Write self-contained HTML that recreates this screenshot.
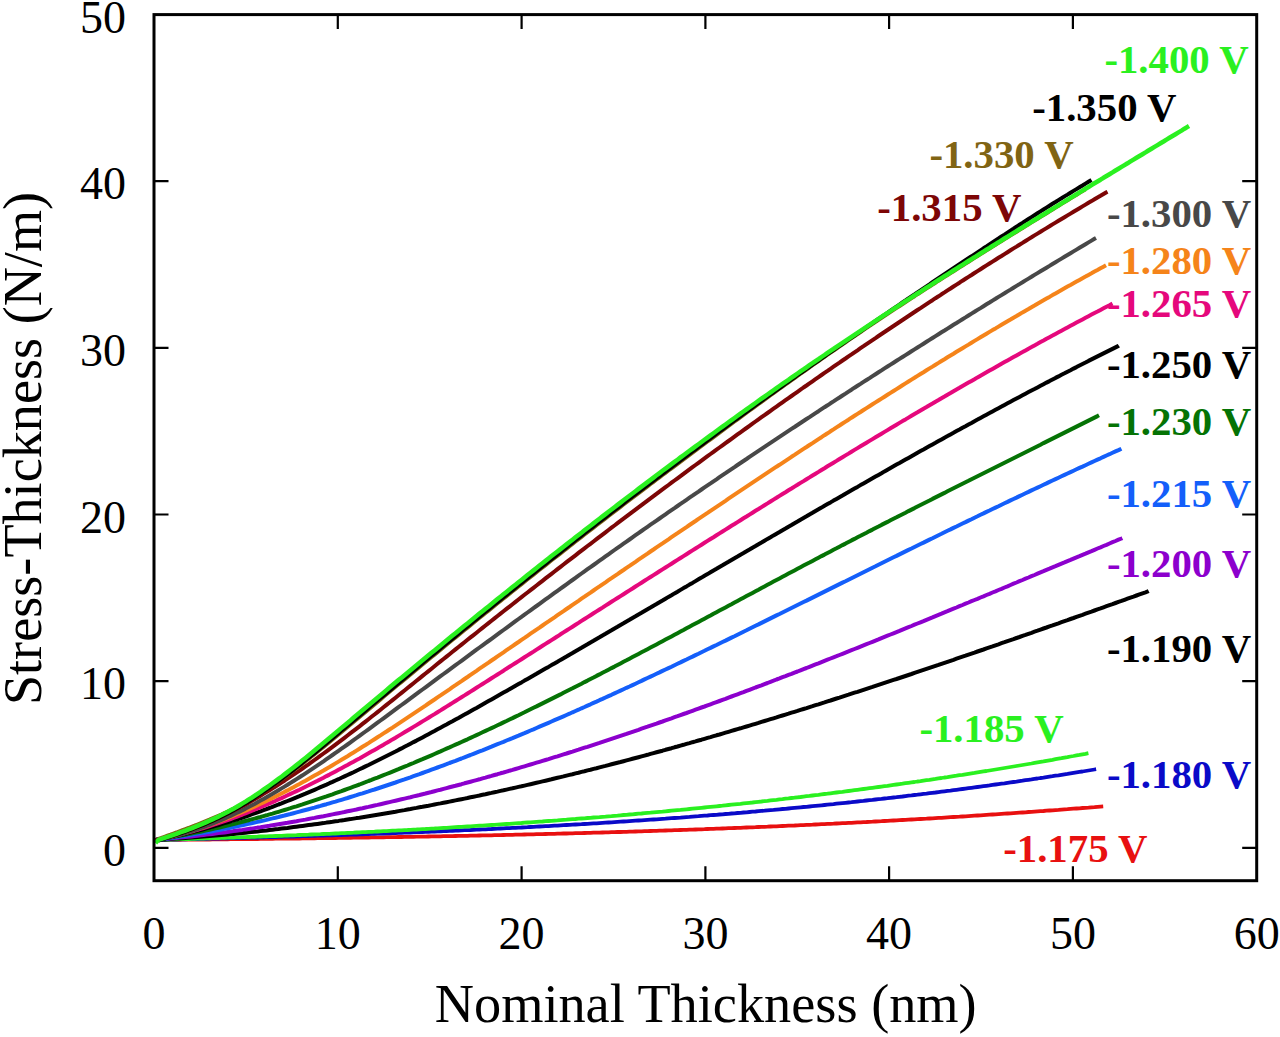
<!DOCTYPE html>
<html><head><meta charset="utf-8"><style>
html,body{margin:0;padding:0;background:#fff;}
svg{display:block;}
text{font-family:"Liberation Serif",serif;}
</style></head><body>
<svg width="1280" height="1037" viewBox="0 0 1280 1037">
<rect x="0" y="0" width="1280" height="1037" fill="#fff"/>
<g>
<path d="M155.5,840.0 L158.5,839.9 L161.5,839.9 L164.5,839.9 L167.5,839.9 L170.5,839.8 L173.5,839.8 L176.5,839.8 L179.5,839.8 L182.5,839.7 L185.5,839.7 L188.5,839.7 L191.5,839.6 L194.5,839.6 L197.5,839.6 L200.5,839.6 L203.5,839.5 L206.5,839.5 L209.5,839.5 L212.5,839.4 L215.5,839.4 L218.5,839.4 L221.5,839.3 L224.5,839.3 L227.5,839.3 L230.5,839.2 L233.5,839.2 L236.5,839.2 L239.5,839.2 L242.5,839.1 L245.5,839.1 L248.5,839.1 L251.5,839.0 L254.5,839.0 L257.5,839.0 L260.5,838.9 L263.5,838.9 L266.5,838.9 L269.5,838.8 L272.5,838.8 L275.5,838.7 L278.5,838.7 L281.5,838.7 L284.5,838.6 L287.5,838.6 L290.5,838.6 L293.5,838.5 L296.5,838.5 L299.5,838.5 L302.5,838.4 L305.5,838.4 L308.5,838.3 L311.5,838.3 L314.5,838.3 L317.5,838.2 L320.5,838.2 L323.5,838.1 L326.5,838.1 L329.5,838.1 L332.5,838.0 L335.5,838.0 L338.5,837.9 L341.5,837.9 L344.5,837.9 L347.5,837.8 L350.5,837.8 L353.5,837.7 L356.5,837.7 L359.5,837.6 L362.5,837.6 L365.5,837.5 L368.5,837.5 L371.5,837.4 L374.5,837.4 L377.5,837.4 L380.5,837.3 L383.5,837.3 L386.5,837.2 L389.5,837.2 L392.5,837.1 L395.5,837.1 L398.5,837.0 L401.5,837.0 L404.5,836.9 L407.5,836.9 L410.5,836.8 L413.5,836.8 L416.5,836.7 L419.5,836.7 L422.5,836.6 L425.5,836.6 L428.5,836.5 L431.5,836.4 L434.5,836.4 L437.5,836.3 L440.5,836.3 L443.5,836.2 L446.5,836.2 L449.5,836.1 L452.5,836.1 L455.5,836.0 L458.5,835.9 L461.5,835.9 L464.5,835.8 L467.5,835.8 L470.5,835.7 L473.5,835.6 L476.5,835.6 L479.5,835.5 L482.5,835.4 L485.5,835.4 L488.5,835.3 L491.5,835.3 L494.5,835.2 L497.5,835.1 L500.5,835.1 L503.5,835.0 L506.5,834.9 L509.5,834.9 L512.5,834.8 L515.5,834.7 L518.5,834.7 L521.5,834.6 L524.5,834.5 L527.5,834.4 L530.5,834.4 L533.5,834.3 L536.5,834.2 L539.5,834.2 L542.5,834.1 L545.5,834.0 L548.5,833.9 L551.5,833.9 L554.5,833.8 L557.5,833.7 L560.5,833.6 L563.5,833.5 L566.5,833.5 L569.5,833.4 L572.5,833.3 L575.5,833.2 L578.5,833.2 L581.5,833.1 L584.5,833.0 L587.5,832.9 L590.5,832.8 L593.5,832.7 L596.5,832.7 L599.5,832.6 L602.5,832.5 L605.5,832.4 L608.5,832.3 L611.5,832.2 L614.5,832.1 L617.5,832.0 L620.5,832.0 L623.5,831.9 L626.5,831.8 L629.5,831.7 L632.5,831.6 L635.5,831.5 L638.5,831.4 L641.5,831.3 L644.5,831.2 L647.5,831.1 L650.5,831.0 L653.5,830.9 L656.5,830.8 L659.5,830.7 L662.5,830.6 L665.5,830.5 L668.5,830.4 L671.5,830.3 L674.5,830.2 L677.5,830.1 L680.5,830.0 L683.5,829.9 L686.5,829.8 L689.5,829.7 L692.5,829.6 L695.5,829.5 L698.5,829.4 L701.5,829.3 L704.5,829.2 L707.5,829.0 L710.5,828.9 L713.5,828.8 L716.5,828.7 L719.5,828.6 L722.5,828.5 L725.5,828.4 L728.5,828.2 L731.5,828.1 L734.5,828.0 L737.5,827.9 L740.5,827.8 L743.5,827.6 L746.5,827.5 L749.5,827.4 L752.5,827.3 L755.5,827.2 L758.5,827.0 L761.5,826.9 L764.5,826.8 L767.5,826.7 L770.5,826.5 L773.5,826.4 L776.5,826.3 L779.5,826.1 L782.5,826.0 L785.5,825.9 L788.5,825.7 L791.5,825.6 L794.5,825.5 L797.5,825.3 L800.5,825.2 L803.5,825.1 L806.5,824.9 L809.5,824.8 L812.5,824.7 L815.5,824.5 L818.5,824.4 L821.5,824.2 L824.5,824.1 L827.5,823.9 L830.5,823.8 L833.5,823.7 L836.5,823.5 L839.5,823.4 L842.5,823.2 L845.5,823.1 L848.5,822.9 L851.5,822.8 L854.5,822.6 L857.5,822.4 L860.5,822.3 L863.5,822.1 L866.5,822.0 L869.5,821.8 L872.5,821.7 L875.5,821.5 L878.5,821.3 L881.5,821.2 L884.5,821.0 L887.5,820.9 L890.5,820.7 L893.5,820.5 L896.5,820.4 L899.5,820.2 L902.5,820.0 L905.5,819.9 L908.5,819.7 L911.5,819.5 L914.5,819.4 L917.5,819.2 L920.5,819.0 L923.5,818.8 L926.5,818.7 L929.5,818.5 L932.5,818.3 L935.5,818.1 L938.5,817.9 L941.5,817.8 L944.5,817.6 L947.5,817.4 L950.5,817.2 L953.5,817.0 L956.5,816.8 L959.5,816.7 L962.5,816.5 L965.5,816.3 L968.5,816.1 L971.5,815.9 L974.5,815.7 L977.5,815.5 L980.5,815.3 L983.5,815.1 L986.5,814.9 L989.5,814.7 L992.5,814.5 L995.5,814.3 L998.5,814.1 L1001.5,813.9 L1004.5,813.7 L1007.5,813.5 L1010.5,813.3 L1013.5,813.1 L1016.5,812.9 L1019.5,812.7 L1022.5,812.5 L1025.5,812.3 L1028.5,812.0 L1031.5,811.8 L1034.5,811.6 L1037.5,811.4 L1040.5,811.2 L1043.5,811.0 L1046.5,810.7 L1049.5,810.5 L1052.5,810.3 L1055.5,810.1 L1058.5,809.9 L1061.5,809.6 L1064.5,809.4 L1067.5,809.2 L1070.5,808.9 L1073.5,808.7 L1076.5,808.5 L1079.5,808.3 L1082.5,808.0 L1085.5,807.8 L1088.5,807.6 L1091.5,807.3 L1094.5,807.1 L1097.5,806.8 L1100.5,806.6 L1103.2,806.4" stroke="#e81010" stroke-width="3.8" fill="none" stroke-linejoin="round" stroke-linecap="butt"/>
<path d="M155.5,840.0 L158.5,839.9 L161.5,839.8 L164.5,839.8 L167.5,839.7 L170.5,839.6 L173.5,839.6 L176.5,839.5 L179.5,839.4 L182.5,839.4 L185.5,839.3 L188.5,839.2 L191.5,839.1 L194.5,839.1 L197.5,839.0 L200.5,838.9 L203.5,838.9 L206.5,838.8 L209.5,838.7 L212.5,838.6 L215.5,838.6 L218.5,838.5 L221.5,838.4 L224.5,838.3 L227.5,838.3 L230.5,838.2 L233.5,838.1 L236.5,838.0 L239.5,838.0 L242.5,837.9 L245.5,837.8 L248.5,837.7 L251.5,837.6 L254.5,837.6 L257.5,837.5 L260.5,837.4 L263.5,837.3 L266.5,837.2 L269.5,837.1 L272.5,837.1 L275.5,837.0 L278.5,836.9 L281.5,836.8 L284.5,836.7 L287.5,836.6 L290.5,836.5 L293.5,836.5 L296.5,836.4 L299.5,836.3 L302.5,836.2 L305.5,836.1 L308.5,836.0 L311.5,835.9 L314.5,835.8 L317.5,835.7 L320.5,835.6 L323.5,835.5 L326.5,835.4 L329.5,835.4 L332.5,835.3 L335.5,835.2 L338.5,835.1 L341.5,835.0 L344.5,834.9 L347.5,834.8 L350.5,834.7 L353.5,834.6 L356.5,834.5 L359.5,834.4 L362.5,834.3 L365.5,834.1 L368.5,834.0 L371.5,833.9 L374.5,833.8 L377.5,833.7 L380.5,833.6 L383.5,833.5 L386.5,833.4 L389.5,833.3 L392.5,833.2 L395.5,833.1 L398.5,832.9 L401.5,832.8 L404.5,832.7 L407.5,832.6 L410.5,832.5 L413.5,832.4 L416.5,832.2 L419.5,832.1 L422.5,832.0 L425.5,831.9 L428.5,831.8 L431.5,831.6 L434.5,831.5 L437.5,831.4 L440.5,831.3 L443.5,831.1 L446.5,831.0 L449.5,830.9 L452.5,830.8 L455.5,830.6 L458.5,830.5 L461.5,830.4 L464.5,830.2 L467.5,830.1 L470.5,830.0 L473.5,829.8 L476.5,829.7 L479.5,829.5 L482.5,829.4 L485.5,829.3 L488.5,829.1 L491.5,829.0 L494.5,828.8 L497.5,828.7 L500.5,828.5 L503.5,828.4 L506.5,828.2 L509.5,828.1 L512.5,827.9 L515.5,827.8 L518.5,827.6 L521.5,827.5 L524.5,827.3 L527.5,827.2 L530.5,827.0 L533.5,826.9 L536.5,826.7 L539.5,826.5 L542.5,826.4 L545.5,826.2 L548.5,826.1 L551.5,825.9 L554.5,825.7 L557.5,825.6 L560.5,825.4 L563.5,825.2 L566.5,825.0 L569.5,824.9 L572.5,824.7 L575.5,824.5 L578.5,824.3 L581.5,824.2 L584.5,824.0 L587.5,823.8 L590.5,823.6 L593.5,823.4 L596.5,823.3 L599.5,823.1 L602.5,822.9 L605.5,822.7 L608.5,822.5 L611.5,822.3 L614.5,822.1 L617.5,821.9 L620.5,821.7 L623.5,821.5 L626.5,821.3 L629.5,821.1 L632.5,820.9 L635.5,820.7 L638.5,820.5 L641.5,820.3 L644.5,820.1 L647.5,819.9 L650.5,819.7 L653.5,819.5 L656.5,819.3 L659.5,819.1 L662.5,818.9 L665.5,818.7 L668.5,818.4 L671.5,818.2 L674.5,818.0 L677.5,817.8 L680.5,817.6 L683.5,817.3 L686.5,817.1 L689.5,816.9 L692.5,816.6 L695.5,816.4 L698.5,816.2 L701.5,815.9 L704.5,815.7 L707.5,815.5 L710.5,815.2 L713.5,815.0 L716.5,814.8 L719.5,814.5 L722.5,814.3 L725.5,814.0 L728.5,813.8 L731.5,813.5 L734.5,813.3 L737.5,813.0 L740.5,812.8 L743.5,812.5 L746.5,812.3 L749.5,812.0 L752.5,811.7 L755.5,811.5 L758.5,811.2 L761.5,810.9 L764.5,810.7 L767.5,810.4 L770.5,810.1 L773.5,809.9 L776.5,809.6 L779.5,809.3 L782.5,809.0 L785.5,808.8 L788.5,808.5 L791.5,808.2 L794.5,807.9 L797.5,807.6 L800.5,807.3 L803.5,807.0 L806.5,806.8 L809.5,806.5 L812.5,806.2 L815.5,805.9 L818.5,805.6 L821.5,805.3 L824.5,805.0 L827.5,804.7 L830.5,804.4 L833.5,804.1 L836.5,803.7 L839.5,803.4 L842.5,803.1 L845.5,802.8 L848.5,802.5 L851.5,802.2 L854.5,801.8 L857.5,801.5 L860.5,801.2 L863.5,800.9 L866.5,800.5 L869.5,800.2 L872.5,799.9 L875.5,799.5 L878.5,799.2 L881.5,798.9 L884.5,798.5 L887.5,798.2 L890.5,797.8 L893.5,797.5 L896.5,797.2 L899.5,796.8 L902.5,796.5 L905.5,796.1 L908.5,795.7 L911.5,795.4 L914.5,795.0 L917.5,794.7 L920.5,794.3 L923.5,793.9 L926.5,793.6 L929.5,793.2 L932.5,792.8 L935.5,792.5 L938.5,792.1 L941.5,791.7 L944.5,791.3 L947.5,790.9 L950.5,790.6 L953.5,790.2 L956.5,789.8 L959.5,789.4 L962.5,789.0 L965.5,788.6 L968.5,788.2 L971.5,787.8 L974.5,787.4 L977.5,787.0 L980.5,786.6 L983.5,786.2 L986.5,785.8 L989.5,785.4 L992.5,784.9 L995.5,784.5 L998.5,784.1 L1001.5,783.7 L1004.5,783.3 L1007.5,782.8 L1010.5,782.4 L1013.5,782.0 L1016.5,781.6 L1019.5,781.1 L1022.5,780.7 L1025.5,780.2 L1028.5,779.8 L1031.5,779.4 L1034.5,778.9 L1037.5,778.5 L1040.5,778.0 L1043.5,777.6 L1046.5,777.1 L1049.5,776.6 L1052.5,776.2 L1055.5,775.7 L1058.5,775.3 L1061.5,774.8 L1064.5,774.3 L1067.5,773.9 L1070.5,773.4 L1073.5,772.9 L1076.5,772.4 L1079.5,771.9 L1082.5,771.5 L1085.5,771.0 L1088.5,770.5 L1091.5,770.0 L1094.5,769.5 L1096.1,769.2" stroke="#0a0ac8" stroke-width="3.8" fill="none" stroke-linejoin="round" stroke-linecap="butt"/>
<path d="M155.5,839.9 L158.5,839.8 L161.5,839.7 L164.5,839.7 L167.5,839.6 L170.5,839.5 L173.5,839.4 L176.5,839.3 L179.5,839.2 L182.5,839.1 L185.5,839.0 L188.5,839.0 L191.5,838.9 L194.5,838.8 L197.5,838.7 L200.5,838.6 L203.5,838.5 L206.5,838.4 L209.5,838.3 L212.5,838.2 L215.5,838.1 L218.5,838.0 L221.5,837.9 L224.5,837.8 L227.5,837.7 L230.5,837.6 L233.5,837.5 L236.5,837.4 L239.5,837.3 L242.5,837.2 L245.5,837.1 L248.5,837.0 L251.5,836.9 L254.5,836.8 L257.5,836.7 L260.5,836.5 L263.5,836.4 L266.5,836.3 L269.5,836.2 L272.5,836.1 L275.5,836.0 L278.5,835.9 L281.5,835.8 L284.5,835.6 L287.5,835.5 L290.5,835.4 L293.5,835.3 L296.5,835.2 L299.5,835.0 L302.5,834.9 L305.5,834.8 L308.5,834.7 L311.5,834.5 L314.5,834.4 L317.5,834.3 L320.5,834.2 L323.5,834.0 L326.5,833.9 L329.5,833.8 L332.5,833.6 L335.5,833.5 L338.5,833.4 L341.5,833.2 L344.5,833.1 L347.5,832.9 L350.5,832.8 L353.5,832.7 L356.5,832.5 L359.5,832.4 L362.5,832.2 L365.5,832.1 L368.5,831.9 L371.5,831.8 L374.5,831.7 L377.5,831.5 L380.5,831.4 L383.5,831.2 L386.5,831.1 L389.5,830.9 L392.5,830.7 L395.5,830.6 L398.5,830.4 L401.5,830.3 L404.5,830.1 L407.5,830.0 L410.5,829.8 L413.5,829.6 L416.5,829.5 L419.5,829.3 L422.5,829.1 L425.5,829.0 L428.5,828.8 L431.5,828.6 L434.5,828.5 L437.5,828.3 L440.5,828.1 L443.5,827.9 L446.5,827.8 L449.5,827.6 L452.5,827.4 L455.5,827.2 L458.5,827.0 L461.5,826.9 L464.5,826.7 L467.5,826.5 L470.5,826.3 L473.5,826.1 L476.5,825.9 L479.5,825.7 L482.5,825.6 L485.5,825.4 L488.5,825.2 L491.5,825.0 L494.5,824.8 L497.5,824.6 L500.5,824.4 L503.5,824.2 L506.5,824.0 L509.5,823.8 L512.5,823.6 L515.5,823.4 L518.5,823.2 L521.5,823.0 L524.5,822.7 L527.5,822.5 L530.5,822.3 L533.5,822.1 L536.5,821.9 L539.5,821.7 L542.5,821.5 L545.5,821.2 L548.5,821.0 L551.5,820.8 L554.5,820.6 L557.5,820.4 L560.5,820.1 L563.5,819.9 L566.5,819.7 L569.5,819.4 L572.5,819.2 L575.5,819.0 L578.5,818.7 L581.5,818.5 L584.5,818.3 L587.5,818.0 L590.5,817.8 L593.5,817.5 L596.5,817.3 L599.5,817.1 L602.5,816.8 L605.5,816.6 L608.5,816.3 L611.5,816.1 L614.5,815.8 L617.5,815.6 L620.5,815.3 L623.5,815.0 L626.5,814.8 L629.5,814.5 L632.5,814.3 L635.5,814.0 L638.5,813.7 L641.5,813.5 L644.5,813.2 L647.5,812.9 L650.5,812.7 L653.5,812.4 L656.5,812.1 L659.5,811.8 L662.5,811.6 L665.5,811.3 L668.5,811.0 L671.5,810.7 L674.5,810.4 L677.5,810.1 L680.5,809.9 L683.5,809.6 L686.5,809.3 L689.5,809.0 L692.5,808.7 L695.5,808.4 L698.5,808.1 L701.5,807.8 L704.5,807.5 L707.5,807.2 L710.5,806.9 L713.5,806.6 L716.5,806.3 L719.5,806.0 L722.5,805.7 L725.5,805.3 L728.5,805.0 L731.5,804.7 L734.5,804.4 L737.5,804.1 L740.5,803.8 L743.5,803.4 L746.5,803.1 L749.5,802.8 L752.5,802.5 L755.5,802.1 L758.5,801.8 L761.5,801.5 L764.5,801.1 L767.5,800.8 L770.5,800.4 L773.5,800.1 L776.5,799.8 L779.5,799.4 L782.5,799.1 L785.5,798.7 L788.5,798.4 L791.5,798.0 L794.5,797.7 L797.5,797.3 L800.5,797.0 L803.5,796.6 L806.5,796.2 L809.5,795.9 L812.5,795.5 L815.5,795.1 L818.5,794.8 L821.5,794.4 L824.5,794.0 L827.5,793.7 L830.5,793.3 L833.5,792.9 L836.5,792.5 L839.5,792.1 L842.5,791.8 L845.5,791.4 L848.5,791.0 L851.5,790.6 L854.5,790.2 L857.5,789.8 L860.5,789.4 L863.5,789.0 L866.5,788.6 L869.5,788.2 L872.5,787.8 L875.5,787.4 L878.5,787.0 L881.5,786.6 L884.5,786.2 L887.5,785.8 L890.5,785.3 L893.5,784.9 L896.5,784.5 L899.5,784.1 L902.5,783.7 L905.5,783.2 L908.5,782.8 L911.5,782.4 L914.5,782.0 L917.5,781.5 L920.5,781.1 L923.5,780.6 L926.5,780.2 L929.5,779.8 L932.5,779.3 L935.5,778.9 L938.5,778.4 L941.5,778.0 L944.5,777.5 L947.5,777.1 L950.5,776.6 L953.5,776.1 L956.5,775.7 L959.5,775.2 L962.5,774.8 L965.5,774.3 L968.5,773.8 L971.5,773.3 L974.5,772.9 L977.5,772.4 L980.5,771.9 L983.5,771.4 L986.5,771.0 L989.5,770.5 L992.5,770.0 L995.5,769.5 L998.5,769.0 L1001.5,768.5 L1004.5,768.0 L1007.5,767.5 L1010.5,767.0 L1013.5,766.5 L1016.5,766.0 L1019.5,765.5 L1022.5,765.0 L1025.5,764.5 L1028.5,764.0 L1031.5,763.5 L1034.5,762.9 L1037.5,762.4 L1040.5,761.9 L1043.5,761.4 L1046.5,760.8 L1049.5,760.3 L1052.5,759.8 L1055.5,759.2 L1058.5,758.7 L1061.5,758.2 L1064.5,757.6 L1067.5,757.1 L1070.5,756.5 L1073.5,756.0 L1076.5,755.4 L1079.5,754.9 L1082.5,754.3 L1085.5,753.8 L1088.4,753.2" stroke="#2af020" stroke-width="3.8" fill="none" stroke-linejoin="round" stroke-linecap="butt"/>
<path d="M155.5,839.9 L158.5,839.7 L161.5,839.5 L164.5,839.4 L167.5,839.2 L170.5,839.0 L173.5,838.8 L176.5,838.6 L179.5,838.4 L182.5,838.2 L185.5,838.0 L188.5,837.7 L191.5,837.5 L194.5,837.3 L197.5,837.0 L200.5,836.8 L203.5,836.6 L206.5,836.3 L209.5,836.1 L212.5,835.8 L215.5,835.5 L218.5,835.3 L221.5,835.0 L224.5,834.7 L227.5,834.4 L230.5,834.1 L233.5,833.9 L236.5,833.6 L239.5,833.3 L242.5,833.0 L245.5,832.7 L248.5,832.3 L251.5,832.0 L254.5,831.7 L257.5,831.4 L260.5,831.0 L263.5,830.7 L266.5,830.4 L269.5,830.0 L272.5,829.7 L275.5,829.3 L278.5,829.0 L281.5,828.6 L284.5,828.2 L287.5,827.9 L290.5,827.5 L293.5,827.1 L296.5,826.7 L299.5,826.3 L302.5,825.9 L305.5,825.5 L308.5,825.1 L311.5,824.7 L314.5,824.3 L317.5,823.9 L320.5,823.5 L323.5,823.1 L326.5,822.6 L329.5,822.2 L332.5,821.8 L335.5,821.3 L338.5,820.9 L341.5,820.4 L344.5,820.0 L347.5,819.5 L350.5,819.1 L353.5,818.6 L356.5,818.1 L359.5,817.7 L362.5,817.2 L365.5,816.7 L368.5,816.2 L371.5,815.7 L374.5,815.2 L377.5,814.7 L380.5,814.2 L383.5,813.7 L386.5,813.2 L389.5,812.7 L392.5,812.2 L395.5,811.7 L398.5,811.1 L401.5,810.6 L404.5,810.1 L407.5,809.5 L410.5,809.0 L413.5,808.4 L416.5,807.9 L419.5,807.3 L422.5,806.8 L425.5,806.2 L428.5,805.7 L431.5,805.1 L434.5,804.5 L437.5,803.9 L440.5,803.4 L443.5,802.8 L446.5,802.2 L449.5,801.6 L452.5,801.0 L455.5,800.4 L458.5,799.8 L461.5,799.2 L464.5,798.6 L467.5,798.0 L470.5,797.3 L473.5,796.7 L476.5,796.1 L479.5,795.5 L482.5,794.8 L485.5,794.2 L488.5,793.5 L491.5,792.9 L494.5,792.2 L497.5,791.6 L500.5,790.9 L503.5,790.3 L506.5,789.6 L509.5,788.9 L512.5,788.3 L515.5,787.6 L518.5,786.9 L521.5,786.3 L524.5,785.6 L527.5,784.9 L530.5,784.2 L533.5,783.5 L536.5,782.8 L539.5,782.1 L542.5,781.4 L545.5,780.7 L548.5,780.0 L551.5,779.3 L554.5,778.5 L557.5,777.8 L560.5,777.1 L563.5,776.4 L566.5,775.6 L569.5,774.9 L572.5,774.2 L575.5,773.4 L578.5,772.7 L581.5,771.9 L584.5,771.2 L587.5,770.4 L590.5,769.7 L593.5,768.9 L596.5,768.2 L599.5,767.4 L602.5,766.6 L605.5,765.9 L608.5,765.1 L611.5,764.3 L614.5,763.5 L617.5,762.7 L620.5,762.0 L623.5,761.2 L626.5,760.4 L629.5,759.6 L632.5,758.8 L635.5,758.0 L638.5,757.2 L641.5,756.4 L644.5,755.6 L647.5,754.8 L650.5,753.9 L653.5,753.1 L656.5,752.3 L659.5,751.5 L662.5,750.7 L665.5,749.8 L668.5,749.0 L671.5,748.2 L674.5,747.3 L677.5,746.5 L680.5,745.6 L683.5,744.8 L686.5,743.9 L689.5,743.1 L692.5,742.2 L695.5,741.4 L698.5,740.5 L701.5,739.7 L704.5,738.8 L707.5,737.9 L710.5,737.1 L713.5,736.2 L716.5,735.3 L719.5,734.5 L722.5,733.6 L725.5,732.7 L728.5,731.8 L731.5,730.9 L734.5,730.0 L737.5,729.1 L740.5,728.3 L743.5,727.4 L746.5,726.5 L749.5,725.6 L752.5,724.7 L755.5,723.8 L758.5,722.9 L761.5,721.9 L764.5,721.0 L767.5,720.1 L770.5,719.2 L773.5,718.3 L776.5,717.4 L779.5,716.4 L782.5,715.5 L785.5,714.6 L788.5,713.7 L791.5,712.7 L794.5,711.8 L797.5,710.9 L800.5,709.9 L803.5,709.0 L806.5,708.1 L809.5,707.1 L812.5,706.2 L815.5,705.2 L818.5,704.3 L821.5,703.3 L824.5,702.4 L827.5,701.4 L830.5,700.5 L833.5,699.5 L836.5,698.5 L839.5,697.6 L842.5,696.6 L845.5,695.6 L848.5,694.7 L851.5,693.7 L854.5,692.7 L857.5,691.8 L860.5,690.8 L863.5,689.8 L866.5,688.8 L869.5,687.8 L872.5,686.9 L875.5,685.9 L878.5,684.9 L881.5,683.9 L884.5,682.9 L887.5,681.9 L890.5,680.9 L893.5,679.9 L896.5,679.0 L899.5,678.0 L902.5,677.0 L905.5,676.0 L908.5,675.0 L911.5,674.0 L914.5,672.9 L917.5,671.9 L920.5,670.9 L923.5,669.9 L926.5,668.9 L929.5,667.9 L932.5,666.9 L935.5,665.9 L938.5,664.9 L941.5,663.8 L944.5,662.8 L947.5,661.8 L950.5,660.8 L953.5,659.8 L956.5,658.7 L959.5,657.7 L962.5,656.7 L965.5,655.7 L968.5,654.6 L971.5,653.6 L974.5,652.6 L977.5,651.5 L980.5,650.5 L983.5,649.5 L986.5,648.4 L989.5,647.4 L992.5,646.4 L995.5,645.3 L998.5,644.3 L1001.5,643.2 L1004.5,642.2 L1007.5,641.1 L1010.5,640.1 L1013.5,639.1 L1016.5,638.0 L1019.5,637.0 L1022.5,635.9 L1025.5,634.9 L1028.5,633.8 L1031.5,632.8 L1034.5,631.7 L1037.5,630.7 L1040.5,629.6 L1043.5,628.5 L1046.5,627.5 L1049.5,626.4 L1052.5,625.4 L1055.5,624.3 L1058.5,623.3 L1061.5,622.2 L1064.5,621.1 L1067.5,620.1 L1070.5,619.0 L1073.5,618.0 L1076.5,616.9 L1079.5,615.8 L1082.5,614.8 L1085.5,613.7 L1088.5,612.6 L1091.5,611.6 L1094.5,610.5 L1097.5,609.4 L1100.5,608.4 L1103.5,607.3 L1106.5,606.2 L1109.5,605.1 L1112.5,604.1 L1115.5,603.0 L1118.5,601.9 L1121.5,600.9 L1124.5,599.8 L1127.5,598.7 L1130.5,597.6 L1133.5,596.6 L1136.5,595.5 L1139.5,594.4 L1142.5,593.3 L1145.5,592.3 L1148.5,591.2 L1148.7,591.1" stroke="#000000" stroke-width="4.0" fill="none" stroke-linejoin="round" stroke-linecap="butt"/>
<path d="M155.5,839.9 L158.5,839.6 L161.5,839.4 L164.5,839.1 L167.5,838.8 L170.5,838.5 L173.5,838.2 L176.5,837.9 L179.5,837.6 L182.5,837.3 L185.5,837.0 L188.5,836.7 L191.5,836.4 L194.5,836.0 L197.5,835.7 L200.5,835.3 L203.5,835.0 L206.5,834.6 L209.5,834.3 L212.5,833.9 L215.5,833.5 L218.5,833.1 L221.5,832.8 L224.5,832.4 L227.5,832.0 L230.5,831.6 L233.5,831.1 L236.5,830.7 L239.5,830.3 L242.5,829.9 L245.5,829.4 L248.5,829.0 L251.5,828.6 L254.5,828.1 L257.5,827.6 L260.5,827.2 L263.5,826.7 L266.5,826.2 L269.5,825.8 L272.5,825.3 L275.5,824.8 L278.5,824.3 L281.5,823.8 L284.5,823.3 L287.5,822.8 L290.5,822.2 L293.5,821.7 L296.5,821.2 L299.5,820.6 L302.5,820.1 L305.5,819.6 L308.5,819.0 L311.5,818.4 L314.5,817.9 L317.5,817.3 L320.5,816.7 L323.5,816.2 L326.5,815.6 L329.5,815.0 L332.5,814.4 L335.5,813.8 L338.5,813.2 L341.5,812.6 L344.5,812.0 L347.5,811.3 L350.5,810.7 L353.5,810.1 L356.5,809.5 L359.5,808.8 L362.5,808.2 L365.5,807.5 L368.5,806.9 L371.5,806.2 L374.5,805.5 L377.5,804.9 L380.5,804.2 L383.5,803.5 L386.5,802.8 L389.5,802.1 L392.5,801.4 L395.5,800.7 L398.5,800.0 L401.5,799.3 L404.5,798.6 L407.5,797.9 L410.5,797.2 L413.5,796.4 L416.5,795.7 L419.5,795.0 L422.5,794.2 L425.5,793.5 L428.5,792.7 L431.5,792.0 L434.5,791.2 L437.5,790.4 L440.5,789.7 L443.5,788.9 L446.5,788.1 L449.5,787.3 L452.5,786.5 L455.5,785.8 L458.5,785.0 L461.5,784.2 L464.5,783.3 L467.5,782.5 L470.5,781.7 L473.5,780.9 L476.5,780.1 L479.5,779.3 L482.5,778.4 L485.5,777.6 L488.5,776.7 L491.5,775.9 L494.5,775.0 L497.5,774.2 L500.5,773.3 L503.5,772.5 L506.5,771.6 L509.5,770.7 L512.5,769.9 L515.5,769.0 L518.5,768.1 L521.5,767.2 L524.5,766.3 L527.5,765.4 L530.5,764.5 L533.5,763.6 L536.5,762.7 L539.5,761.8 L542.5,760.9 L545.5,760.0 L548.5,759.1 L551.5,758.1 L554.5,757.2 L557.5,756.3 L560.5,755.3 L563.5,754.4 L566.5,753.5 L569.5,752.5 L572.5,751.6 L575.5,750.6 L578.5,749.7 L581.5,748.7 L584.5,747.7 L587.5,746.8 L590.5,745.8 L593.5,744.8 L596.5,743.8 L599.5,742.9 L602.5,741.9 L605.5,740.9 L608.5,739.9 L611.5,738.9 L614.5,737.9 L617.5,736.9 L620.5,735.9 L623.5,734.9 L626.5,733.9 L629.5,732.8 L632.5,731.8 L635.5,730.8 L638.5,729.8 L641.5,728.7 L644.5,727.7 L647.5,726.7 L650.5,725.6 L653.5,724.6 L656.5,723.6 L659.5,722.5 L662.5,721.5 L665.5,720.4 L668.5,719.3 L671.5,718.3 L674.5,717.2 L677.5,716.2 L680.5,715.1 L683.5,714.0 L686.5,713.0 L689.5,711.9 L692.5,710.8 L695.5,709.7 L698.5,708.6 L701.5,707.5 L704.5,706.5 L707.5,705.4 L710.5,704.3 L713.5,703.2 L716.5,702.1 L719.5,701.0 L722.5,699.9 L725.5,698.8 L728.5,697.6 L731.5,696.5 L734.5,695.4 L737.5,694.3 L740.5,693.2 L743.5,692.1 L746.5,690.9 L749.5,689.8 L752.5,688.7 L755.5,687.5 L758.5,686.4 L761.5,685.3 L764.5,684.1 L767.5,683.0 L770.5,681.8 L773.5,680.7 L776.5,679.5 L779.5,678.4 L782.5,677.2 L785.5,676.1 L788.5,674.9 L791.5,673.8 L794.5,672.6 L797.5,671.5 L800.5,670.3 L803.5,669.1 L806.5,668.0 L809.5,666.8 L812.5,665.6 L815.5,664.4 L818.5,663.3 L821.5,662.1 L824.5,660.9 L827.5,659.7 L830.5,658.5 L833.5,657.3 L836.5,656.2 L839.5,655.0 L842.5,653.8 L845.5,652.6 L848.5,651.4 L851.5,650.2 L854.5,649.0 L857.5,647.8 L860.5,646.6 L863.5,645.4 L866.5,644.2 L869.5,643.0 L872.5,641.8 L875.5,640.6 L878.5,639.4 L881.5,638.1 L884.5,636.9 L887.5,635.7 L890.5,634.5 L893.5,633.3 L896.5,632.1 L899.5,630.9 L902.5,629.6 L905.5,628.4 L908.5,627.2 L911.5,626.0 L914.5,624.7 L917.5,623.5 L920.5,622.3 L923.5,621.1 L926.5,619.8 L929.5,618.6 L932.5,617.4 L935.5,616.1 L938.5,614.9 L941.5,613.7 L944.5,612.4 L947.5,611.2 L950.5,609.9 L953.5,608.7 L956.5,607.5 L959.5,606.2 L962.5,605.0 L965.5,603.7 L968.5,602.5 L971.5,601.2 L974.5,600.0 L977.5,598.8 L980.5,597.5 L983.5,596.3 L986.5,595.0 L989.5,593.8 L992.5,592.5 L995.5,591.3 L998.5,590.0 L1001.5,588.8 L1004.5,587.5 L1007.5,586.3 L1010.5,585.0 L1013.5,583.7 L1016.5,582.5 L1019.5,581.2 L1022.5,580.0 L1025.5,578.7 L1028.5,577.5 L1031.5,576.2 L1034.5,575.0 L1037.5,573.7 L1040.5,572.4 L1043.5,571.2 L1046.5,569.9 L1049.5,568.7 L1052.5,567.4 L1055.5,566.2 L1058.5,564.9 L1061.5,563.6 L1064.5,562.4 L1067.5,561.1 L1070.5,559.9 L1073.5,558.6 L1076.5,557.3 L1079.5,556.1 L1082.5,554.8 L1085.5,553.6 L1088.5,552.3 L1091.5,551.1 L1094.5,549.8 L1097.5,548.5 L1100.5,547.3 L1103.5,546.0 L1106.5,544.8 L1109.5,543.5 L1112.5,542.2 L1115.5,541.0 L1118.5,539.7 L1121.5,538.5 L1122.3,538.1" stroke="#8c00cd" stroke-width="4.0" fill="none" stroke-linejoin="round" stroke-linecap="butt"/>
<path d="M155.5,839.9 L158.5,839.6 L161.5,839.2 L164.5,838.8 L167.5,838.4 L170.5,838.0 L173.5,837.5 L176.5,837.1 L179.5,836.6 L182.5,836.2 L185.5,835.7 L188.5,835.3 L191.5,834.8 L194.5,834.3 L197.5,833.8 L200.5,833.3 L203.5,832.8 L206.5,832.2 L209.5,831.7 L212.5,831.2 L215.5,830.6 L218.5,830.0 L221.5,829.5 L224.5,828.9 L227.5,828.3 L230.5,827.7 L233.5,827.1 L236.5,826.5 L239.5,825.9 L242.5,825.2 L245.5,824.6 L248.5,823.9 L251.5,823.3 L254.5,822.6 L257.5,821.9 L260.5,821.2 L263.5,820.6 L266.5,819.9 L269.5,819.1 L272.5,818.4 L275.5,817.7 L278.5,817.0 L281.5,816.2 L284.5,815.5 L287.5,814.7 L290.5,814.0 L293.5,813.2 L296.5,812.4 L299.5,811.6 L302.5,810.8 L305.5,810.0 L308.5,809.2 L311.5,808.4 L314.5,807.6 L317.5,806.7 L320.5,805.9 L323.5,805.0 L326.5,804.2 L329.5,803.3 L332.5,802.4 L335.5,801.6 L338.5,800.7 L341.5,799.8 L344.5,798.9 L347.5,798.0 L350.5,797.0 L353.5,796.1 L356.5,795.2 L359.5,794.2 L362.5,793.3 L365.5,792.3 L368.5,791.4 L371.5,790.4 L374.5,789.5 L377.5,788.5 L380.5,787.5 L383.5,786.5 L386.5,785.5 L389.5,784.5 L392.5,783.5 L395.5,782.5 L398.5,781.4 L401.5,780.4 L404.5,779.4 L407.5,778.3 L410.5,777.3 L413.5,776.2 L416.5,775.1 L419.5,774.1 L422.5,773.0 L425.5,771.9 L428.5,770.8 L431.5,769.7 L434.5,768.6 L437.5,767.5 L440.5,766.4 L443.5,765.3 L446.5,764.2 L449.5,763.0 L452.5,761.9 L455.5,760.8 L458.5,759.6 L461.5,758.5 L464.5,757.3 L467.5,756.1 L470.5,755.0 L473.5,753.8 L476.5,752.6 L479.5,751.4 L482.5,750.3 L485.5,749.1 L488.5,747.9 L491.5,746.7 L494.5,745.4 L497.5,744.2 L500.5,743.0 L503.5,741.8 L506.5,740.5 L509.5,739.3 L512.5,738.1 L515.5,736.8 L518.5,735.6 L521.5,734.3 L524.5,733.1 L527.5,731.8 L530.5,730.5 L533.5,729.3 L536.5,728.0 L539.5,726.7 L542.5,725.4 L545.5,724.1 L548.5,722.8 L551.5,721.5 L554.5,720.2 L557.5,718.9 L560.5,717.6 L563.5,716.3 L566.5,715.0 L569.5,713.7 L572.5,712.3 L575.5,711.0 L578.5,709.7 L581.5,708.3 L584.5,707.0 L587.5,705.6 L590.5,704.3 L593.5,702.9 L596.5,701.6 L599.5,700.2 L602.5,698.9 L605.5,697.5 L608.5,696.1 L611.5,694.8 L614.5,693.4 L617.5,692.0 L620.5,690.6 L623.5,689.2 L626.5,687.8 L629.5,686.5 L632.5,685.1 L635.5,683.7 L638.5,682.3 L641.5,680.9 L644.5,679.4 L647.5,678.0 L650.5,676.6 L653.5,675.2 L656.5,673.8 L659.5,672.4 L662.5,670.9 L665.5,669.5 L668.5,668.1 L671.5,666.7 L674.5,665.2 L677.5,663.8 L680.5,662.4 L683.5,660.9 L686.5,659.5 L689.5,658.0 L692.5,656.6 L695.5,655.1 L698.5,653.7 L701.5,652.2 L704.5,650.8 L707.5,649.3 L710.5,647.9 L713.5,646.4 L716.5,645.0 L719.5,643.5 L722.5,642.0 L725.5,640.6 L728.5,639.1 L731.5,637.6 L734.5,636.2 L737.5,634.7 L740.5,633.2 L743.5,631.7 L746.5,630.3 L749.5,628.8 L752.5,627.3 L755.5,625.8 L758.5,624.4 L761.5,622.9 L764.5,621.4 L767.5,619.9 L770.5,618.4 L773.5,616.9 L776.5,615.4 L779.5,614.0 L782.5,612.5 L785.5,611.0 L788.5,609.5 L791.5,608.0 L794.5,606.5 L797.5,605.0 L800.5,603.5 L803.5,602.0 L806.5,600.6 L809.5,599.1 L812.5,597.6 L815.5,596.1 L818.5,594.6 L821.5,593.1 L824.5,591.6 L827.5,590.1 L830.5,588.6 L833.5,587.1 L836.5,585.6 L839.5,584.1 L842.5,582.6 L845.5,581.2 L848.5,579.7 L851.5,578.2 L854.5,576.7 L857.5,575.2 L860.5,573.7 L863.5,572.2 L866.5,570.7 L869.5,569.2 L872.5,567.7 L875.5,566.3 L878.5,564.8 L881.5,563.3 L884.5,561.8 L887.5,560.3 L890.5,558.8 L893.5,557.3 L896.5,555.9 L899.5,554.4 L902.5,552.9 L905.5,551.4 L908.5,549.9 L911.5,548.5 L914.5,547.0 L917.5,545.5 L920.5,544.0 L923.5,542.6 L926.5,541.1 L929.5,539.6 L932.5,538.2 L935.5,536.7 L938.5,535.2 L941.5,533.8 L944.5,532.3 L947.5,530.8 L950.5,529.4 L953.5,527.9 L956.5,526.5 L959.5,525.0 L962.5,523.5 L965.5,522.1 L968.5,520.6 L971.5,519.2 L974.5,517.7 L977.5,516.3 L980.5,514.8 L983.5,513.4 L986.5,511.9 L989.5,510.5 L992.5,509.0 L995.5,507.6 L998.5,506.2 L1001.5,504.7 L1004.5,503.3 L1007.5,501.9 L1010.5,500.4 L1013.5,499.0 L1016.5,497.6 L1019.5,496.1 L1022.5,494.7 L1025.5,493.3 L1028.5,491.9 L1031.5,490.4 L1034.5,489.0 L1037.5,487.6 L1040.5,486.2 L1043.5,484.8 L1046.5,483.4 L1049.5,481.9 L1052.5,480.5 L1055.5,479.1 L1058.5,477.7 L1061.5,476.3 L1064.5,474.9 L1067.5,473.5 L1070.5,472.1 L1073.5,470.7 L1076.5,469.3 L1079.5,467.9 L1082.5,466.6 L1085.5,465.2 L1088.5,463.8 L1091.5,462.4 L1094.5,461.0 L1097.5,459.6 L1100.5,458.3 L1103.5,456.9 L1106.5,455.5 L1109.5,454.2 L1112.5,452.8 L1115.5,451.4 L1118.5,450.1 L1121.4,448.7" stroke="#145ffa" stroke-width="4.0" fill="none" stroke-linejoin="round" stroke-linecap="butt"/>
<path d="M155.5,840.0 L158.5,839.5 L161.5,839.0 L164.5,838.5 L167.5,838.0 L170.5,837.5 L173.5,836.9 L176.5,836.4 L179.5,835.8 L182.5,835.3 L185.5,834.7 L188.5,834.1 L191.5,833.5 L194.5,832.9 L197.5,832.3 L200.5,831.7 L203.5,831.0 L206.5,830.4 L209.5,829.7 L212.5,829.1 L215.5,828.4 L218.5,827.7 L221.5,827.0 L224.5,826.3 L227.5,825.6 L230.5,824.8 L233.5,824.1 L236.5,823.3 L239.5,822.6 L242.5,821.8 L245.5,821.0 L248.5,820.2 L251.5,819.4 L254.5,818.6 L257.5,817.8 L260.5,817.0 L263.5,816.1 L266.5,815.3 L269.5,814.4 L272.5,813.6 L275.5,812.7 L278.5,811.8 L281.5,810.9 L284.5,810.0 L287.5,809.1 L290.5,808.2 L293.5,807.2 L296.5,806.3 L299.5,805.3 L302.5,804.4 L305.5,803.4 L308.5,802.4 L311.5,801.4 L314.5,800.4 L317.5,799.4 L320.5,798.4 L323.5,797.4 L326.5,796.4 L329.5,795.3 L332.5,794.3 L335.5,793.2 L338.5,792.1 L341.5,791.1 L344.5,790.0 L347.5,788.9 L350.5,787.8 L353.5,786.7 L356.5,785.6 L359.5,784.5 L362.5,783.3 L365.5,782.2 L368.5,781.0 L371.5,779.9 L374.5,778.7 L377.5,777.6 L380.5,776.4 L383.5,775.2 L386.5,774.0 L389.5,772.8 L392.5,771.6 L395.5,770.4 L398.5,769.2 L401.5,767.9 L404.5,766.7 L407.5,765.5 L410.5,764.2 L413.5,763.0 L416.5,761.7 L419.5,760.4 L422.5,759.2 L425.5,757.9 L428.5,756.6 L431.5,755.3 L434.5,754.0 L437.5,752.7 L440.5,751.4 L443.5,750.0 L446.5,748.7 L449.5,747.4 L452.5,746.0 L455.5,744.7 L458.5,743.4 L461.5,742.0 L464.5,740.6 L467.5,739.3 L470.5,737.9 L473.5,736.5 L476.5,735.1 L479.5,733.7 L482.5,732.3 L485.5,730.9 L488.5,729.5 L491.5,728.1 L494.5,726.7 L497.5,725.3 L500.5,723.9 L503.5,722.4 L506.5,721.0 L509.5,719.5 L512.5,718.1 L515.5,716.6 L518.5,715.2 L521.5,713.7 L524.5,712.3 L527.5,710.8 L530.5,709.3 L533.5,707.8 L536.5,706.4 L539.5,704.9 L542.5,703.4 L545.5,701.9 L548.5,700.4 L551.5,698.9 L554.5,697.4 L557.5,695.9 L560.5,694.4 L563.5,692.8 L566.5,691.3 L569.5,689.8 L572.5,688.3 L575.5,686.7 L578.5,685.2 L581.5,683.7 L584.5,682.1 L587.5,680.6 L590.5,679.0 L593.5,677.5 L596.5,675.9 L599.5,674.4 L602.5,672.8 L605.5,671.3 L608.5,669.7 L611.5,668.1 L614.5,666.6 L617.5,665.0 L620.5,663.4 L623.5,661.8 L626.5,660.3 L629.5,658.7 L632.5,657.1 L635.5,655.5 L638.5,653.9 L641.5,652.3 L644.5,650.8 L647.5,649.2 L650.5,647.6 L653.5,646.0 L656.5,644.4 L659.5,642.8 L662.5,641.2 L665.5,639.6 L668.5,638.0 L671.5,636.4 L674.5,634.8 L677.5,633.2 L680.5,631.6 L683.5,630.0 L686.5,628.3 L689.5,626.7 L692.5,625.1 L695.5,623.5 L698.5,621.9 L701.5,620.3 L704.5,618.7 L707.5,617.1 L710.5,615.5 L713.5,613.8 L716.5,612.2 L719.5,610.6 L722.5,609.0 L725.5,607.4 L728.5,605.8 L731.5,604.2 L734.5,602.5 L737.5,600.9 L740.5,599.3 L743.5,597.7 L746.5,596.1 L749.5,594.5 L752.5,592.9 L755.5,591.3 L758.5,589.7 L761.5,588.0 L764.5,586.4 L767.5,584.8 L770.5,583.2 L773.5,581.6 L776.5,580.0 L779.5,578.4 L782.5,576.8 L785.5,575.2 L788.5,573.6 L791.5,572.0 L794.5,570.4 L797.5,568.8 L800.5,567.2 L803.5,565.6 L806.5,564.0 L809.5,562.5 L812.5,560.9 L815.5,559.3 L818.5,557.7 L821.5,556.1 L824.5,554.6 L827.5,553.0 L830.5,551.4 L833.5,549.8 L836.5,548.3 L839.5,546.7 L842.5,545.1 L845.5,543.6 L848.5,542.0 L851.5,540.4 L854.5,538.9 L857.5,537.3 L860.5,535.8 L863.5,534.2 L866.5,532.7 L869.5,531.1 L872.5,529.6 L875.5,528.0 L878.5,526.5 L881.5,524.9 L884.5,523.4 L887.5,521.9 L890.5,520.3 L893.5,518.8 L896.5,517.3 L899.5,515.7 L902.5,514.2 L905.5,512.7 L908.5,511.1 L911.5,509.6 L914.5,508.1 L917.5,506.5 L920.5,505.0 L923.5,503.5 L926.5,502.0 L929.5,500.5 L932.5,498.9 L935.5,497.4 L938.5,495.9 L941.5,494.4 L944.5,492.9 L947.5,491.3 L950.5,489.8 L953.5,488.3 L956.5,486.8 L959.5,485.3 L962.5,483.8 L965.5,482.3 L968.5,480.8 L971.5,479.2 L974.5,477.7 L977.5,476.2 L980.5,474.7 L983.5,473.2 L986.5,471.7 L989.5,470.2 L992.5,468.7 L995.5,467.2 L998.5,465.7 L1001.5,464.2 L1004.5,462.7 L1007.5,461.2 L1010.5,459.7 L1013.5,458.2 L1016.5,456.7 L1019.5,455.2 L1022.5,453.7 L1025.5,452.2 L1028.5,450.7 L1031.5,449.2 L1034.5,447.7 L1037.5,446.2 L1040.5,444.7 L1043.5,443.1 L1046.5,441.6 L1049.5,440.1 L1052.5,438.6 L1055.5,437.1 L1058.5,435.6 L1061.5,434.1 L1064.5,432.6 L1067.5,431.1 L1070.5,429.6 L1073.5,428.1 L1076.5,426.6 L1079.5,425.1 L1082.5,423.6 L1085.5,422.1 L1088.5,420.6 L1091.5,419.1 L1094.5,417.6 L1097.5,416.1 L1099.0,415.3" stroke="#057305" stroke-width="4.0" fill="none" stroke-linejoin="round" stroke-linecap="butt"/>
<path d="M155.5,840.0 L158.5,839.5 L161.5,838.9 L164.5,838.3 L167.5,837.7 L170.5,837.1 L173.5,836.5 L176.5,835.8 L179.5,835.2 L182.5,834.5 L185.5,833.8 L188.5,833.1 L191.5,832.3 L194.5,831.6 L197.5,830.8 L200.5,830.0 L203.5,829.2 L206.5,828.4 L209.5,827.6 L212.5,826.7 L215.5,825.9 L218.5,825.0 L221.5,824.1 L224.5,823.2 L227.5,822.3 L230.5,821.4 L233.5,820.4 L236.5,819.5 L239.5,818.5 L242.5,817.5 L245.5,816.5 L248.5,815.5 L251.5,814.4 L254.5,813.4 L257.5,812.3 L260.5,811.3 L263.5,810.2 L266.5,809.1 L269.5,808.0 L272.5,806.8 L275.5,805.7 L278.5,804.5 L281.5,803.4 L284.5,802.2 L287.5,801.0 L290.5,799.8 L293.5,798.6 L296.5,797.4 L299.5,796.2 L302.5,794.9 L305.5,793.7 L308.5,792.4 L311.5,791.1 L314.5,789.8 L317.5,788.5 L320.5,787.2 L323.5,785.9 L326.5,784.6 L329.5,783.2 L332.5,781.9 L335.5,780.5 L338.5,779.2 L341.5,777.8 L344.5,776.4 L347.5,775.0 L350.5,773.6 L353.5,772.2 L356.5,770.7 L359.5,769.3 L362.5,767.9 L365.5,766.4 L368.5,765.0 L371.5,763.5 L374.5,762.0 L377.5,760.5 L380.5,759.0 L383.5,757.5 L386.5,756.0 L389.5,754.5 L392.5,753.0 L395.5,751.5 L398.5,749.9 L401.5,748.4 L404.5,746.8 L407.5,745.3 L410.5,743.7 L413.5,742.1 L416.5,740.6 L419.5,739.0 L422.5,737.4 L425.5,735.8 L428.5,734.2 L431.5,732.6 L434.5,731.0 L437.5,729.3 L440.5,727.7 L443.5,726.1 L446.5,724.5 L449.5,722.8 L452.5,721.2 L455.5,719.5 L458.5,717.9 L461.5,716.2 L464.5,714.6 L467.5,712.9 L470.5,711.2 L473.5,709.5 L476.5,707.9 L479.5,706.2 L482.5,704.5 L485.5,702.8 L488.5,701.1 L491.5,699.4 L494.5,697.7 L497.5,696.0 L500.5,694.3 L503.5,692.6 L506.5,690.9 L509.5,689.2 L512.5,687.5 L515.5,685.8 L518.5,684.1 L521.5,682.4 L524.5,680.6 L527.5,678.9 L530.5,677.2 L533.5,675.5 L536.5,673.8 L539.5,672.0 L542.5,670.3 L545.5,668.6 L548.5,666.9 L551.5,665.1 L554.5,663.4 L557.5,661.7 L560.5,659.9 L563.5,658.2 L566.5,656.5 L569.5,654.7 L572.5,653.0 L575.5,651.2 L578.5,649.5 L581.5,647.8 L584.5,646.0 L587.5,644.3 L590.5,642.5 L593.5,640.8 L596.5,639.0 L599.5,637.3 L602.5,635.5 L605.5,633.8 L608.5,632.0 L611.5,630.3 L614.5,628.5 L617.5,626.8 L620.5,625.0 L623.5,623.3 L626.5,621.5 L629.5,619.8 L632.5,618.0 L635.5,616.3 L638.5,614.5 L641.5,612.8 L644.5,611.0 L647.5,609.2 L650.5,607.5 L653.5,605.7 L656.5,604.0 L659.5,602.2 L662.5,600.5 L665.5,598.7 L668.5,596.9 L671.5,595.2 L674.5,593.4 L677.5,591.7 L680.5,589.9 L683.5,588.1 L686.5,586.4 L689.5,584.6 L692.5,582.9 L695.5,581.1 L698.5,579.3 L701.5,577.6 L704.5,575.8 L707.5,574.1 L710.5,572.3 L713.5,570.5 L716.5,568.8 L719.5,567.0 L722.5,565.3 L725.5,563.5 L728.5,561.8 L731.5,560.0 L734.5,558.2 L737.5,556.5 L740.5,554.7 L743.5,553.0 L746.5,551.2 L749.5,549.5 L752.5,547.7 L755.5,546.0 L758.5,544.2 L761.5,542.5 L764.5,540.7 L767.5,538.9 L770.5,537.2 L773.5,535.4 L776.5,533.7 L779.5,532.0 L782.5,530.2 L785.5,528.5 L788.5,526.7 L791.5,525.0 L794.5,523.2 L797.5,521.5 L800.5,519.7 L803.5,518.0 L806.5,516.3 L809.5,514.5 L812.5,512.8 L815.5,511.0 L818.5,509.3 L821.5,507.6 L824.5,505.8 L827.5,504.1 L830.5,502.4 L833.5,500.6 L836.5,498.9 L839.5,497.2 L842.5,495.5 L845.5,493.7 L848.5,492.0 L851.5,490.3 L854.5,488.6 L857.5,486.9 L860.5,485.1 L863.5,483.4 L866.5,481.7 L869.5,480.0 L872.5,478.3 L875.5,476.6 L878.5,474.9 L881.5,473.2 L884.5,471.4 L887.5,469.7 L890.5,468.0 L893.5,466.3 L896.5,464.6 L899.5,463.0 L902.5,461.3 L905.5,459.6 L908.5,457.9 L911.5,456.2 L914.5,454.5 L917.5,452.8 L920.5,451.1 L923.5,449.5 L926.5,447.8 L929.5,446.1 L932.5,444.4 L935.5,442.8 L938.5,441.1 L941.5,439.4 L944.5,437.7 L947.5,436.1 L950.5,434.4 L953.5,432.8 L956.5,431.1 L959.5,429.5 L962.5,427.8 L965.5,426.2 L968.5,424.5 L971.5,422.9 L974.5,421.2 L977.5,419.6 L980.5,417.9 L983.5,416.3 L986.5,414.7 L989.5,413.1 L992.5,411.4 L995.5,409.8 L998.5,408.2 L1001.5,406.6 L1004.5,404.9 L1007.5,403.3 L1010.5,401.7 L1013.5,400.1 L1016.5,398.5 L1019.5,396.9 L1022.5,395.3 L1025.5,393.7 L1028.5,392.1 L1031.5,390.5 L1034.5,389.0 L1037.5,387.4 L1040.5,385.8 L1043.5,384.2 L1046.5,382.6 L1049.5,381.1 L1052.5,379.5 L1055.5,377.9 L1058.5,376.4 L1061.5,374.8 L1064.5,373.3 L1067.5,371.7 L1070.5,370.2 L1073.5,368.6 L1076.5,367.1 L1079.5,365.5 L1082.5,364.0 L1085.5,362.5 L1088.5,360.9 L1091.5,359.4 L1094.5,357.9 L1097.5,356.4 L1100.5,354.9 L1103.5,353.4 L1106.5,351.9 L1109.5,350.4 L1112.5,348.9 L1115.5,347.4 L1118.5,345.9 L1118.8,345.7" stroke="#000000" stroke-width="4.0" fill="none" stroke-linejoin="round" stroke-linecap="butt"/>
<path d="M155.5,840.1 L158.5,839.5 L161.5,838.8 L164.5,838.2 L167.5,837.5 L170.5,836.9 L173.5,836.2 L176.5,835.4 L179.5,834.7 L182.5,833.9 L185.5,833.1 L188.5,832.3 L191.5,831.5 L194.5,830.7 L197.5,829.8 L200.5,828.9 L203.5,828.0 L206.5,827.1 L209.5,826.1 L212.5,825.1 L215.5,824.2 L218.5,823.2 L221.5,822.1 L224.5,821.1 L227.5,820.0 L230.5,819.0 L233.5,817.9 L236.5,816.8 L239.5,815.6 L242.5,814.5 L245.5,813.3 L248.5,812.1 L251.5,810.9 L254.5,809.7 L257.5,808.5 L260.5,807.2 L263.5,806.0 L266.5,804.7 L269.5,803.4 L272.5,802.1 L275.5,800.8 L278.5,799.4 L281.5,798.1 L284.5,796.7 L287.5,795.3 L290.5,793.9 L293.5,792.5 L296.5,791.1 L299.5,789.7 L302.5,788.2 L305.5,786.7 L308.5,785.3 L311.5,783.8 L314.5,782.3 L317.5,780.8 L320.5,779.2 L323.5,777.7 L326.5,776.1 L329.5,774.6 L332.5,773.0 L335.5,771.4 L338.5,769.8 L341.5,768.2 L344.5,766.6 L347.5,765.0 L350.5,763.3 L353.5,761.7 L356.5,760.0 L359.5,758.4 L362.5,756.7 L365.5,755.0 L368.5,753.3 L371.5,751.6 L374.5,749.9 L377.5,748.2 L380.5,746.4 L383.5,744.7 L386.5,742.9 L389.5,741.2 L392.5,739.4 L395.5,737.7 L398.5,735.9 L401.5,734.1 L404.5,732.3 L407.5,730.5 L410.5,728.7 L413.5,726.9 L416.5,725.1 L419.5,723.3 L422.5,721.4 L425.5,719.6 L428.5,717.8 L431.5,715.9 L434.5,714.1 L437.5,712.2 L440.5,710.4 L443.5,708.5 L446.5,706.6 L449.5,704.8 L452.5,702.9 L455.5,701.0 L458.5,699.1 L461.5,697.2 L464.5,695.4 L467.5,693.5 L470.5,691.6 L473.5,689.7 L476.5,687.8 L479.5,685.9 L482.5,684.0 L485.5,682.1 L488.5,680.2 L491.5,678.3 L494.5,676.4 L497.5,674.5 L500.5,672.6 L503.5,670.7 L506.5,668.7 L509.5,666.8 L512.5,664.9 L515.5,663.0 L518.5,661.1 L521.5,659.2 L524.5,657.3 L527.5,655.4 L530.5,653.5 L533.5,651.6 L536.5,649.6 L539.5,647.7 L542.5,645.8 L545.5,643.9 L548.5,642.0 L551.5,640.1 L554.5,638.2 L557.5,636.3 L560.5,634.3 L563.5,632.4 L566.5,630.5 L569.5,628.6 L572.5,626.7 L575.5,624.8 L578.5,622.9 L581.5,620.9 L584.5,619.0 L587.5,617.1 L590.5,615.2 L593.5,613.3 L596.5,611.4 L599.5,609.5 L602.5,607.6 L605.5,605.6 L608.5,603.7 L611.5,601.8 L614.5,599.9 L617.5,598.0 L620.5,596.1 L623.5,594.2 L626.5,592.3 L629.5,590.4 L632.5,588.5 L635.5,586.5 L638.5,584.6 L641.5,582.7 L644.5,580.8 L647.5,578.9 L650.5,577.0 L653.5,575.1 L656.5,573.2 L659.5,571.3 L662.5,569.4 L665.5,567.5 L668.5,565.6 L671.5,563.7 L674.5,561.8 L677.5,559.9 L680.5,558.0 L683.5,556.1 L686.5,554.2 L689.5,552.3 L692.5,550.4 L695.5,548.5 L698.5,546.6 L701.5,544.7 L704.5,542.8 L707.5,540.9 L710.5,539.0 L713.5,537.2 L716.5,535.3 L719.5,533.4 L722.5,531.5 L725.5,529.6 L728.5,527.7 L731.5,525.8 L734.5,524.0 L737.5,522.1 L740.5,520.2 L743.5,518.3 L746.5,516.5 L749.5,514.6 L752.5,512.7 L755.5,510.8 L758.5,509.0 L761.5,507.1 L764.5,505.2 L767.5,503.4 L770.5,501.5 L773.5,499.6 L776.5,497.8 L779.5,495.9 L782.5,494.0 L785.5,492.2 L788.5,490.3 L791.5,488.5 L794.5,486.6 L797.5,484.8 L800.5,482.9 L803.5,481.1 L806.5,479.2 L809.5,477.4 L812.5,475.5 L815.5,473.7 L818.5,471.9 L821.5,470.0 L824.5,468.2 L827.5,466.3 L830.5,464.5 L833.5,462.7 L836.5,460.9 L839.5,459.0 L842.5,457.2 L845.5,455.4 L848.5,453.6 L851.5,451.7 L854.5,449.9 L857.5,448.1 L860.5,446.3 L863.5,444.5 L866.5,442.7 L869.5,440.9 L872.5,439.1 L875.5,437.3 L878.5,435.5 L881.5,433.7 L884.5,431.9 L887.5,430.1 L890.5,428.3 L893.5,426.5 L896.5,424.7 L899.5,422.9 L902.5,421.1 L905.5,419.4 L908.5,417.6 L911.5,415.8 L914.5,414.0 L917.5,412.3 L920.5,410.5 L923.5,408.7 L926.5,407.0 L929.5,405.2 L932.5,403.5 L935.5,401.7 L938.5,400.0 L941.5,398.2 L944.5,396.5 L947.5,394.7 L950.5,393.0 L953.5,391.2 L956.5,389.5 L959.5,387.8 L962.5,386.0 L965.5,384.3 L968.5,382.6 L971.5,380.9 L974.5,379.2 L977.5,377.4 L980.5,375.7 L983.5,374.0 L986.5,372.3 L989.5,370.6 L992.5,368.9 L995.5,367.2 L998.5,365.5 L1001.5,363.8 L1004.5,362.1 L1007.5,360.4 L1010.5,358.8 L1013.5,357.1 L1016.5,355.4 L1019.5,353.7 L1022.5,352.1 L1025.5,350.4 L1028.5,348.7 L1031.5,347.1 L1034.5,345.4 L1037.5,343.8 L1040.5,342.1 L1043.5,340.5 L1046.5,338.8 L1049.5,337.2 L1052.5,335.6 L1055.5,333.9 L1058.5,332.3 L1061.5,330.7 L1064.5,329.1 L1067.5,327.4 L1070.5,325.8 L1073.5,324.2 L1076.5,322.6 L1079.5,321.0 L1082.5,319.4 L1085.5,317.8 L1088.5,316.2 L1091.5,314.6 L1094.5,313.0 L1097.5,311.5 L1100.5,309.9 L1103.5,308.3 L1106.5,306.7 L1109.5,305.2 L1112.5,303.6" stroke="#e5087c" stroke-width="4.0" fill="none" stroke-linejoin="round" stroke-linecap="butt"/>
<path d="M155.5,840.1 L158.5,839.4 L161.5,838.8 L164.5,838.1 L167.5,837.4 L170.5,836.7 L173.5,835.9 L176.5,835.2 L179.5,834.4 L182.5,833.5 L185.5,832.7 L188.5,831.8 L191.5,830.9 L194.5,830.0 L197.5,829.0 L200.5,828.0 L203.5,827.0 L206.5,826.0 L209.5,824.9 L212.5,823.9 L215.5,822.8 L218.5,821.7 L221.5,820.5 L224.5,819.4 L227.5,818.2 L230.5,817.0 L233.5,815.7 L236.5,814.5 L239.5,813.2 L242.5,811.9 L245.5,810.6 L248.5,809.3 L251.5,808.0 L254.5,806.6 L257.5,805.2 L260.5,803.8 L263.5,802.4 L266.5,800.9 L269.5,799.5 L272.5,798.0 L275.5,796.5 L278.5,795.0 L281.5,793.5 L284.5,791.9 L287.5,790.4 L290.5,788.8 L293.5,787.2 L296.5,785.6 L299.5,784.0 L302.5,782.3 L305.5,780.7 L308.5,779.0 L311.5,777.3 L314.5,775.6 L317.5,773.9 L320.5,772.2 L323.5,770.5 L326.5,768.7 L329.5,767.0 L332.5,765.2 L335.5,763.4 L338.5,761.6 L341.5,759.8 L344.5,758.0 L347.5,756.2 L350.5,754.3 L353.5,752.5 L356.5,750.6 L359.5,748.7 L362.5,746.8 L365.5,745.0 L368.5,743.1 L371.5,741.1 L374.5,739.2 L377.5,737.3 L380.5,735.4 L383.5,733.4 L386.5,731.5 L389.5,729.5 L392.5,727.6 L395.5,725.6 L398.5,723.6 L401.5,721.6 L404.5,719.6 L407.5,717.6 L410.5,715.6 L413.5,713.6 L416.5,711.6 L419.5,709.6 L422.5,707.6 L425.5,705.6 L428.5,703.5 L431.5,701.5 L434.5,699.5 L437.5,697.4 L440.5,695.4 L443.5,693.3 L446.5,691.3 L449.5,689.3 L452.5,687.2 L455.5,685.2 L458.5,683.1 L461.5,681.1 L464.5,679.0 L467.5,677.0 L470.5,674.9 L473.5,672.8 L476.5,670.8 L479.5,668.7 L482.5,666.7 L485.5,664.6 L488.5,662.6 L491.5,660.5 L494.5,658.5 L497.5,656.4 L500.5,654.3 L503.5,652.3 L506.5,650.2 L509.5,648.2 L512.5,646.1 L515.5,644.0 L518.5,642.0 L521.5,639.9 L524.5,637.9 L527.5,635.8 L530.5,633.7 L533.5,631.7 L536.5,629.6 L539.5,627.6 L542.5,625.5 L545.5,623.4 L548.5,621.4 L551.5,619.3 L554.5,617.3 L557.5,615.2 L560.5,613.1 L563.5,611.1 L566.5,609.0 L569.5,607.0 L572.5,604.9 L575.5,602.8 L578.5,600.8 L581.5,598.7 L584.5,596.7 L587.5,594.6 L590.5,592.6 L593.5,590.5 L596.5,588.4 L599.5,586.4 L602.5,584.3 L605.5,582.3 L608.5,580.2 L611.5,578.2 L614.5,576.1 L617.5,574.1 L620.5,572.0 L623.5,570.0 L626.5,567.9 L629.5,565.9 L632.5,563.8 L635.5,561.8 L638.5,559.7 L641.5,557.7 L644.5,555.6 L647.5,553.6 L650.5,551.5 L653.5,549.5 L656.5,547.4 L659.5,545.4 L662.5,543.4 L665.5,541.3 L668.5,539.3 L671.5,537.2 L674.5,535.2 L677.5,533.2 L680.5,531.1 L683.5,529.1 L686.5,527.1 L689.5,525.0 L692.5,523.0 L695.5,521.0 L698.5,518.9 L701.5,516.9 L704.5,514.9 L707.5,512.9 L710.5,510.8 L713.5,508.8 L716.5,506.8 L719.5,504.8 L722.5,502.8 L725.5,500.8 L728.5,498.7 L731.5,496.7 L734.5,494.7 L737.5,492.7 L740.5,490.7 L743.5,488.7 L746.5,486.7 L749.5,484.7 L752.5,482.7 L755.5,480.7 L758.5,478.7 L761.5,476.7 L764.5,474.7 L767.5,472.7 L770.5,470.7 L773.5,468.7 L776.5,466.7 L779.5,464.8 L782.5,462.8 L785.5,460.8 L788.5,458.8 L791.5,456.8 L794.5,454.9 L797.5,452.9 L800.5,450.9 L803.5,448.9 L806.5,447.0 L809.5,445.0 L812.5,443.1 L815.5,441.1 L818.5,439.1 L821.5,437.2 L824.5,435.2 L827.5,433.3 L830.5,431.3 L833.5,429.4 L836.5,427.4 L839.5,425.5 L842.5,423.5 L845.5,421.6 L848.5,419.7 L851.5,417.7 L854.5,415.8 L857.5,413.9 L860.5,412.0 L863.5,410.0 L866.5,408.1 L869.5,406.2 L872.5,404.3 L875.5,402.4 L878.5,400.5 L881.5,398.6 L884.5,396.7 L887.5,394.8 L890.5,392.9 L893.5,391.0 L896.5,389.1 L899.5,387.2 L902.5,385.3 L905.5,383.4 L908.5,381.5 L911.5,379.6 L914.5,377.8 L917.5,375.9 L920.5,374.0 L923.5,372.2 L926.5,370.3 L929.5,368.4 L932.5,366.6 L935.5,364.7 L938.5,362.9 L941.5,361.0 L944.5,359.2 L947.5,357.3 L950.5,355.5 L953.5,353.7 L956.5,351.8 L959.5,350.0 L962.5,348.2 L965.5,346.4 L968.5,344.6 L971.5,342.7 L974.5,340.9 L977.5,339.1 L980.5,337.3 L983.5,335.5 L986.5,333.7 L989.5,331.9 L992.5,330.1 L995.5,328.4 L998.5,326.6 L1001.5,324.8 L1004.5,323.0 L1007.5,321.2 L1010.5,319.5 L1013.5,317.7 L1016.5,316.0 L1019.5,314.2 L1022.5,312.4 L1025.5,310.7 L1028.5,309.0 L1031.5,307.2 L1034.5,305.5 L1037.5,303.7 L1040.5,302.0 L1043.5,300.3 L1046.5,298.6 L1049.5,296.9 L1052.5,295.1 L1055.5,293.4 L1058.5,291.7 L1061.5,290.0 L1064.5,288.3 L1067.5,286.6 L1070.5,285.0 L1073.5,283.3 L1076.5,281.6 L1079.5,279.9 L1082.5,278.2 L1085.5,276.6 L1088.5,274.9 L1091.5,273.3 L1094.5,271.6 L1097.5,270.0 L1100.5,268.3 L1103.5,266.7 L1106.0,265.3" stroke="#f5841a" stroke-width="4.0" fill="none" stroke-linejoin="round" stroke-linecap="butt"/>
<path d="M155.5,840.0 L158.5,839.5 L161.5,839.0 L164.5,838.4 L167.5,837.7 L170.5,837.1 L173.5,836.3 L176.5,835.6 L179.5,834.8 L182.5,834.0 L185.5,833.1 L188.5,832.2 L191.5,831.2 L194.5,830.3 L197.5,829.3 L200.5,828.2 L203.5,827.1 L206.5,826.0 L209.5,824.8 L212.5,823.7 L215.5,822.4 L218.5,821.2 L221.5,819.9 L224.5,818.6 L227.5,817.2 L230.5,815.9 L233.5,814.5 L236.5,813.0 L239.5,811.6 L242.5,810.1 L245.5,808.6 L248.5,807.0 L251.5,805.5 L254.5,803.9 L257.5,802.2 L260.5,800.6 L263.5,798.9 L266.5,797.2 L269.5,795.5 L272.5,793.8 L275.5,792.0 L278.5,790.2 L281.5,788.4 L284.5,786.6 L287.5,784.8 L290.5,782.9 L293.5,781.0 L296.5,779.1 L299.5,777.2 L302.5,775.3 L305.5,773.3 L308.5,771.3 L311.5,769.3 L314.5,767.3 L317.5,765.3 L320.5,763.3 L323.5,761.3 L326.5,759.2 L329.5,757.1 L332.5,755.0 L335.5,752.9 L338.5,750.8 L341.5,748.7 L344.5,746.6 L347.5,744.5 L350.5,742.3 L353.5,740.2 L356.5,738.0 L359.5,735.8 L362.5,733.7 L365.5,731.5 L368.5,729.3 L371.5,727.1 L374.5,724.9 L377.5,722.7 L380.5,720.5 L383.5,718.3 L386.5,716.1 L389.5,713.9 L392.5,711.7 L395.5,709.4 L398.5,707.2 L401.5,705.0 L404.5,702.8 L407.5,700.6 L410.5,698.4 L413.5,696.1 L416.5,693.9 L419.5,691.7 L422.5,689.5 L425.5,687.3 L428.5,685.1 L431.5,682.9 L434.5,680.6 L437.5,678.4 L440.5,676.2 L443.5,674.0 L446.5,671.8 L449.5,669.6 L452.5,667.4 L455.5,665.2 L458.5,663.0 L461.5,660.8 L464.5,658.6 L467.5,656.4 L470.5,654.2 L473.5,651.9 L476.5,649.7 L479.5,647.5 L482.5,645.3 L485.5,643.1 L488.5,641.0 L491.5,638.8 L494.5,636.6 L497.5,634.4 L500.5,632.2 L503.5,630.0 L506.5,627.8 L509.5,625.6 L512.5,623.4 L515.5,621.2 L518.5,619.0 L521.5,616.9 L524.5,614.7 L527.5,612.5 L530.5,610.3 L533.5,608.1 L536.5,606.0 L539.5,603.8 L542.5,601.6 L545.5,599.4 L548.5,597.3 L551.5,595.1 L554.5,592.9 L557.5,590.8 L560.5,588.6 L563.5,586.5 L566.5,584.3 L569.5,582.1 L572.5,580.0 L575.5,577.8 L578.5,575.7 L581.5,573.5 L584.5,571.4 L587.5,569.2 L590.5,567.1 L593.5,565.0 L596.5,562.8 L599.5,560.7 L602.5,558.6 L605.5,556.4 L608.5,554.3 L611.5,552.2 L614.5,550.0 L617.5,547.9 L620.5,545.8 L623.5,543.7 L626.5,541.6 L629.5,539.5 L632.5,537.3 L635.5,535.2 L638.5,533.1 L641.5,531.0 L644.5,528.9 L647.5,526.8 L650.5,524.7 L653.5,522.7 L656.5,520.6 L659.5,518.5 L662.5,516.4 L665.5,514.3 L668.5,512.2 L671.5,510.1 L674.5,508.1 L677.5,506.0 L680.5,503.9 L683.5,501.9 L686.5,499.8 L689.5,497.7 L692.5,495.7 L695.5,493.6 L698.5,491.6 L701.5,489.5 L704.5,487.4 L707.5,485.4 L710.5,483.4 L713.5,481.3 L716.5,479.3 L719.5,477.2 L722.5,475.2 L725.5,473.2 L728.5,471.1 L731.5,469.1 L734.5,467.1 L737.5,465.0 L740.5,463.0 L743.5,461.0 L746.5,459.0 L749.5,456.9 L752.5,454.9 L755.5,452.9 L758.5,450.9 L761.5,448.9 L764.5,446.9 L767.5,444.9 L770.5,442.9 L773.5,440.9 L776.5,438.9 L779.5,436.9 L782.5,434.9 L785.5,432.9 L788.5,430.9 L791.5,428.9 L794.5,427.0 L797.5,425.0 L800.5,423.0 L803.5,421.0 L806.5,419.0 L809.5,417.1 L812.5,415.1 L815.5,413.1 L818.5,411.2 L821.5,409.2 L824.5,407.2 L827.5,405.3 L830.5,403.3 L833.5,401.4 L836.5,399.4 L839.5,397.5 L842.5,395.5 L845.5,393.6 L848.5,391.6 L851.5,389.7 L854.5,387.7 L857.5,385.8 L860.5,383.9 L863.5,381.9 L866.5,380.0 L869.5,378.1 L872.5,376.1 L875.5,374.2 L878.5,372.3 L881.5,370.4 L884.5,368.4 L887.5,366.5 L890.5,364.6 L893.5,362.7 L896.5,360.8 L899.5,358.9 L902.5,357.0 L905.5,355.1 L908.5,353.2 L911.5,351.3 L914.5,349.4 L917.5,347.5 L920.5,345.6 L923.5,343.7 L926.5,341.8 L929.5,339.9 L932.5,338.0 L935.5,336.1 L938.5,334.2 L941.5,332.3 L944.5,330.5 L947.5,328.6 L950.5,326.7 L953.5,324.8 L956.5,323.0 L959.5,321.1 L962.5,319.2 L965.5,317.4 L968.5,315.5 L971.5,313.6 L974.5,311.8 L977.5,309.9 L980.5,308.1 L983.5,306.2 L986.5,304.3 L989.5,302.5 L992.5,300.6 L995.5,298.8 L998.5,296.9 L1001.5,295.1 L1004.5,293.3 L1007.5,291.4 L1010.5,289.6 L1013.5,287.7 L1016.5,285.9 L1019.5,284.1 L1022.5,282.3 L1025.5,280.4 L1028.5,278.6 L1031.5,276.8 L1034.5,274.9 L1037.5,273.1 L1040.5,271.3 L1043.5,269.5 L1046.5,267.7 L1049.5,265.9 L1052.5,264.0 L1055.5,262.2 L1058.5,260.4 L1061.5,258.6 L1064.5,256.8 L1067.5,255.0 L1070.5,253.2 L1073.5,251.4 L1076.5,249.6 L1079.5,247.8 L1082.5,246.0 L1085.5,244.2 L1088.5,242.4 L1091.5,240.6 L1094.5,238.8 L1096.0,238.0" stroke="#484848" stroke-width="4.0" fill="none" stroke-linejoin="round" stroke-linecap="butt"/>
<path d="M155.5,840.1 L158.5,839.4 L161.5,838.7 L164.5,838.0 L167.5,837.2 L170.5,836.3 L173.5,835.5 L176.5,834.6 L179.5,833.6 L182.5,832.6 L185.5,831.6 L188.5,830.6 L191.5,829.5 L194.5,828.4 L197.5,827.2 L200.5,826.0 L203.5,824.8 L206.5,823.5 L209.5,822.2 L212.5,820.9 L215.5,819.6 L218.5,818.2 L221.5,816.8 L224.5,815.3 L227.5,813.8 L230.5,812.3 L233.5,810.8 L236.5,809.2 L239.5,807.6 L242.5,806.0 L245.5,804.4 L248.5,802.7 L251.5,801.0 L254.5,799.3 L257.5,797.5 L260.5,795.7 L263.5,793.9 L266.5,792.1 L269.5,790.3 L272.5,788.4 L275.5,786.5 L278.5,784.6 L281.5,782.6 L284.5,780.7 L287.5,778.7 L290.5,776.7 L293.5,774.7 L296.5,772.6 L299.5,770.6 L302.5,768.5 L305.5,766.4 L308.5,764.3 L311.5,762.2 L314.5,760.0 L317.5,757.9 L320.5,755.7 L323.5,753.5 L326.5,751.3 L329.5,749.1 L332.5,746.9 L335.5,744.6 L338.5,742.4 L341.5,740.1 L344.5,737.8 L347.5,735.5 L350.5,733.2 L353.5,730.9 L356.5,728.6 L359.5,726.3 L362.5,723.9 L365.5,721.6 L368.5,719.2 L371.5,716.8 L374.5,714.5 L377.5,712.1 L380.5,709.7 L383.5,707.3 L386.5,704.9 L389.5,702.5 L392.5,700.1 L395.5,697.7 L398.5,695.3 L401.5,692.9 L404.5,690.5 L407.5,688.0 L410.5,685.6 L413.5,683.2 L416.5,680.8 L419.5,678.4 L422.5,675.9 L425.5,673.5 L428.5,671.1 L431.5,668.7 L434.5,666.3 L437.5,663.8 L440.5,661.4 L443.5,659.0 L446.5,656.6 L449.5,654.2 L452.5,651.8 L455.5,649.4 L458.5,647.0 L461.5,644.6 L464.5,642.2 L467.5,639.8 L470.5,637.4 L473.5,635.1 L476.5,632.7 L479.5,630.3 L482.5,627.9 L485.5,625.5 L488.5,623.2 L491.5,620.8 L494.5,618.4 L497.5,616.0 L500.5,613.7 L503.5,611.3 L506.5,608.9 L509.5,606.6 L512.5,604.2 L515.5,601.9 L518.5,599.5 L521.5,597.2 L524.5,594.8 L527.5,592.5 L530.5,590.1 L533.5,587.8 L536.5,585.5 L539.5,583.1 L542.5,580.8 L545.5,578.4 L548.5,576.1 L551.5,573.8 L554.5,571.5 L557.5,569.1 L560.5,566.8 L563.5,564.5 L566.5,562.2 L569.5,559.9 L572.5,557.6 L575.5,555.3 L578.5,552.9 L581.5,550.6 L584.5,548.3 L587.5,546.0 L590.5,543.8 L593.5,541.5 L596.5,539.2 L599.5,536.9 L602.5,534.6 L605.5,532.3 L608.5,530.0 L611.5,527.7 L614.5,525.5 L617.5,523.2 L620.5,520.9 L623.5,518.7 L626.5,516.4 L629.5,514.1 L632.5,511.9 L635.5,509.6 L638.5,507.4 L641.5,505.1 L644.5,502.9 L647.5,500.6 L650.5,498.4 L653.5,496.1 L656.5,493.9 L659.5,491.6 L662.5,489.4 L665.5,487.2 L668.5,485.0 L671.5,482.7 L674.5,480.5 L677.5,478.3 L680.5,476.1 L683.5,473.8 L686.5,471.6 L689.5,469.4 L692.5,467.2 L695.5,465.0 L698.5,462.8 L701.5,460.6 L704.5,458.4 L707.5,456.2 L710.5,454.0 L713.5,451.8 L716.5,449.7 L719.5,447.5 L722.5,445.3 L725.5,443.1 L728.5,441.0 L731.5,438.8 L734.5,436.6 L737.5,434.4 L740.5,432.3 L743.5,430.1 L746.5,428.0 L749.5,425.8 L752.5,423.7 L755.5,421.5 L758.5,419.4 L761.5,417.2 L764.5,415.1 L767.5,413.0 L770.5,410.8 L773.5,408.7 L776.5,406.6 L779.5,404.4 L782.5,402.3 L785.5,400.2 L788.5,398.1 L791.5,396.0 L794.5,393.9 L797.5,391.8 L800.5,389.7 L803.5,387.5 L806.5,385.5 L809.5,383.4 L812.5,381.3 L815.5,379.2 L818.5,377.1 L821.5,375.0 L824.5,372.9 L827.5,370.9 L830.5,368.8 L833.5,366.7 L836.5,364.6 L839.5,362.6 L842.5,360.5 L845.5,358.5 L848.5,356.4 L851.5,354.4 L854.5,352.3 L857.5,350.3 L860.5,348.2 L863.5,346.2 L866.5,344.1 L869.5,342.1 L872.5,340.1 L875.5,338.1 L878.5,336.0 L881.5,334.0 L884.5,332.0 L887.5,330.0 L890.5,328.0 L893.5,326.0 L896.5,324.0 L899.5,322.0 L902.5,320.0 L905.5,318.0 L908.5,316.0 L911.5,314.0 L914.5,312.0 L917.5,310.0 L920.5,308.1 L923.5,306.1 L926.5,304.1 L929.5,302.1 L932.5,300.2 L935.5,298.2 L938.5,296.3 L941.5,294.3 L944.5,292.4 L947.5,290.4 L950.5,288.5 L953.5,286.5 L956.5,284.6 L959.5,282.7 L962.5,280.7 L965.5,278.8 L968.5,276.9 L971.5,275.0 L974.5,273.0 L977.5,271.1 L980.5,269.2 L983.5,267.3 L986.5,265.4 L989.5,263.5 L992.5,261.6 L995.5,259.7 L998.5,257.8 L1001.5,256.0 L1004.5,254.1 L1007.5,252.2 L1010.5,250.3 L1013.5,248.4 L1016.5,246.6 L1019.5,244.7 L1022.5,242.9 L1025.5,241.0 L1028.5,239.1 L1031.5,237.3 L1034.5,235.4 L1037.5,233.6 L1040.5,231.8 L1043.5,229.9 L1046.5,228.1 L1049.5,226.3 L1052.5,224.4 L1055.5,222.6 L1058.5,220.8 L1061.5,219.0 L1064.5,217.2 L1067.5,215.4 L1070.5,213.6 L1073.5,211.8 L1076.5,210.0 L1079.5,208.2 L1082.5,206.4 L1085.5,204.6 L1088.5,202.8 L1091.5,201.1 L1094.5,199.3 L1097.5,197.5 L1100.5,195.8 L1103.5,194.0 L1106.5,192.2 L1107.5,191.7" stroke="#7d0606" stroke-width="4.0" fill="none" stroke-linejoin="round" stroke-linecap="butt"/>
<path d="M158.5,838.9 L161.5,837.9 L164.5,836.8 L167.5,835.7 L170.5,834.7 L173.5,833.6 L176.5,832.5 L179.5,831.3 L182.5,830.2 L185.5,829.1 L188.5,828.0 L191.5,826.8 L194.5,825.7 L197.5,824.5 L200.5,823.3 L203.5,822.1 L206.5,820.9 L209.5,819.7 L212.5,818.4 L215.5,817.1 L218.5,815.8 L221.5,814.5 L224.5,813.1 L227.5,811.7 L230.5,810.3 L233.5,808.8 L236.5,807.3 L239.5,805.7 L242.5,804.1 L245.5,802.4 L248.5,800.7 L251.5,798.9 L254.5,797.1 L257.5,795.3 L260.5,793.4 L263.5,791.5 L266.5,789.6 L269.5,787.6 L272.5,785.5 L275.5,783.5 L278.5,781.4 L281.5,779.2 L284.5,777.1 L287.5,774.9 L290.5,772.7 L293.5,770.4 L296.5,768.2 L299.5,765.9 L302.5,763.6 L305.5,761.2 L308.5,758.9 L311.5,756.5 L314.5,754.1 L317.5,751.7 L320.5,749.3 L323.5,746.9 L326.5,744.4 L329.5,741.9 L332.5,739.5 L335.5,737.0 L338.5,734.5 L341.5,732.0 L344.5,729.5 L347.5,727.0 L350.5,724.5 L353.5,722.0 L356.5,719.4 L359.5,716.9 L362.5,714.4 L365.5,711.9 L368.5,709.4 L371.5,706.9 L374.5,704.4 L377.5,701.9 L380.5,699.4 L383.5,696.8 L386.5,694.3 L389.5,691.8 L392.5,689.3 L395.5,686.8 L398.5,684.3 L401.5,681.9 L404.5,679.4 L407.5,676.9 L410.5,674.4 L413.5,671.9 L416.5,669.4 L419.5,666.9 L422.5,664.5 L425.5,662.0 L428.5,659.5 L431.5,657.0 L434.5,654.6 L437.5,652.1 L440.5,649.6 L443.5,647.2 L446.5,644.7 L449.5,642.3 L452.5,639.8 L455.5,637.4 L458.5,634.9 L461.5,632.5 L464.5,630.0 L467.5,627.6 L470.5,625.1 L473.5,622.7 L476.5,620.3 L479.5,617.8 L482.5,615.4 L485.5,613.0 L488.5,610.6 L491.5,608.2 L494.5,605.7 L497.5,603.3 L500.5,600.9 L503.5,598.5 L506.5,596.1 L509.5,593.7 L512.5,591.3 L515.5,588.9 L518.5,586.5 L521.5,584.1 L524.5,581.7 L527.5,579.3 L530.5,576.9 L533.5,574.6 L536.5,572.2 L539.5,569.8 L542.5,567.4 L545.5,565.1 L548.5,562.7 L551.5,560.3 L554.5,558.0 L557.5,555.6 L560.5,553.3 L563.5,550.9 L566.5,548.6 L569.5,546.2 L572.5,543.9 L575.5,541.5 L578.5,539.2 L581.5,536.9 L584.5,534.5 L587.5,532.2 L590.5,529.9 L593.5,527.6 L596.5,525.2 L599.5,522.9 L602.5,520.6 L605.5,518.3 L608.5,516.0 L611.5,513.7 L614.5,511.4 L617.5,509.1 L620.5,506.8 L623.5,504.5 L626.5,502.2 L629.5,499.9 L632.5,497.7 L635.5,495.4 L638.5,493.1 L641.5,490.8 L644.5,488.6 L647.5,486.3 L650.5,484.0 L653.5,481.8 L656.5,479.5 L659.5,477.3 L662.5,475.0 L665.5,472.8 L668.5,470.5 L671.5,468.3 L674.5,466.1 L677.5,463.8 L680.5,461.6 L683.5,459.4 L686.5,457.1 L689.5,454.9 L692.5,452.7 L695.5,450.4 L698.5,448.2 L701.5,446.0 L704.5,443.7 L707.5,441.5 L710.5,439.3 L713.5,437.1 L716.5,434.8 L719.5,432.6 L722.5,430.4 L725.5,428.2 L728.5,426.0 L731.5,423.7 L734.5,421.5 L737.5,419.3 L740.5,417.1 L743.5,414.9 L746.5,412.7 L749.5,410.5 L752.5,408.3 L755.5,406.1 L758.5,403.9 L761.5,401.8 L764.5,399.6 L767.5,397.4 L770.5,395.2 L773.5,393.1 L776.5,390.9 L779.5,388.7 L782.5,386.6 L785.5,384.4 L788.5,382.3 L791.5,380.1 L794.5,378.0 L797.5,375.9 L800.5,373.7 L803.5,371.6 L806.5,369.5 L809.5,367.4 L812.5,365.2 L815.5,363.1 L818.5,361.0 L821.5,358.9 L824.5,356.8 L827.5,354.7 L830.5,352.6 L833.5,350.6 L836.5,348.5 L839.5,346.4 L842.5,344.3 L845.5,342.3 L848.5,340.2 L851.5,338.1 L854.5,336.1 L857.5,334.0 L860.5,332.0 L863.5,329.9 L866.5,327.9 L869.5,325.9 L872.5,323.9 L875.5,321.9 L878.5,319.8 L881.5,317.8 L884.5,315.9 L887.5,313.9 L890.5,311.9 L893.5,309.9 L896.5,307.9 L899.5,306.0 L902.5,304.0 L905.5,302.0 L908.5,300.1 L911.5,298.1 L914.5,296.2 L917.5,294.2 L920.5,292.3 L923.5,290.4 L926.5,288.4 L929.5,286.5 L932.5,284.6 L935.5,282.7 L938.5,280.7 L941.5,278.8 L944.5,276.9 L947.5,275.0 L950.5,273.1 L953.5,271.2 L956.5,269.3 L959.5,267.4 L962.5,265.5 L965.5,263.6 L968.5,261.7 L971.5,259.8 L974.5,257.9 L977.5,256.0 L980.5,254.1 L983.5,252.3 L986.5,250.4 L989.5,248.5 L992.5,246.6 L995.5,244.7 L998.5,242.9 L1001.5,241.0 L1004.5,239.1 L1007.5,237.3 L1010.5,235.4 L1013.5,233.5 L1016.5,231.7 L1019.5,229.8 L1022.5,228.0 L1025.5,226.1 L1028.5,224.2 L1031.5,222.4 L1034.5,220.5 L1037.5,218.7 L1040.5,216.8 L1043.5,215.0 L1046.5,213.2 L1049.5,211.3 L1052.5,209.5 L1055.5,207.6 L1058.5,205.8 L1061.5,203.9 L1064.5,202.1 L1067.5,200.3 L1070.5,198.4 L1073.5,196.6 L1076.5,194.8 L1079.5,192.9 L1082.5,191.1 L1085.5,189.3" stroke="#806414" stroke-width="4.0" fill="none" stroke-linejoin="round" stroke-linecap="butt"/>
<path d="M158.5,840.5 L161.5,839.5 L164.5,838.6 L167.5,837.6 L170.5,836.6 L173.5,835.7 L176.5,834.6 L179.5,833.6 L182.5,832.6 L185.5,831.5 L188.5,830.4 L191.5,829.3 L194.5,828.2 L197.5,827.0 L200.5,825.8 L203.5,824.6 L206.5,823.3 L209.5,822.0 L212.5,820.7 L215.5,819.3 L218.5,817.9 L221.5,816.5 L224.5,815.0 L227.5,813.5 L230.5,811.9 L233.5,810.3 L236.5,808.6 L239.5,806.9 L242.5,805.1 L245.5,803.3 L248.5,801.5 L251.5,799.6 L254.5,797.7 L257.5,795.7 L260.5,793.7 L263.5,791.7 L266.5,789.6 L269.5,787.6 L272.5,785.4 L275.5,783.3 L278.5,781.1 L281.5,778.9 L284.5,776.7 L287.5,774.4 L290.5,772.1 L293.5,769.8 L296.5,767.5 L299.5,765.1 L302.5,762.7 L305.5,760.3 L308.5,757.9 L311.5,755.5 L314.5,753.1 L317.5,750.6 L320.5,748.1 L323.5,745.7 L326.5,743.2 L329.5,740.7 L332.5,738.2 L335.5,735.7 L338.5,733.2 L341.5,730.6 L344.5,728.1 L347.5,725.6 L350.5,723.1 L353.5,720.6 L356.5,718.1 L359.5,715.6 L362.5,713.1 L365.5,710.6 L368.5,708.0 L371.5,705.5 L374.5,703.0 L377.5,700.5 L380.5,698.0 L383.5,695.6 L386.5,693.1 L389.5,690.6 L392.5,688.1 L395.5,685.6 L398.5,683.1 L401.5,680.6 L404.5,678.1 L407.5,675.6 L410.5,673.2 L413.5,670.7 L416.5,668.2 L419.5,665.7 L422.5,663.2 L425.5,660.8 L428.5,658.3 L431.5,655.8 L434.5,653.4 L437.5,650.9 L440.5,648.4 L443.5,646.0 L446.5,643.5 L449.5,641.1 L452.5,638.6 L455.5,636.2 L458.5,633.7 L461.5,631.3 L464.5,628.8 L467.5,626.4 L470.5,623.9 L473.5,621.5 L476.5,619.1 L479.5,616.6 L482.5,614.2 L485.5,611.8 L488.5,609.4 L491.5,607.0 L494.5,604.5 L497.5,602.1 L500.5,599.7 L503.5,597.3 L506.5,594.9 L509.5,592.5 L512.5,590.1 L515.5,587.7 L518.5,585.3 L521.5,582.9 L524.5,580.5 L527.5,578.1 L530.5,575.7 L533.5,573.4 L536.5,571.0 L539.5,568.6 L542.5,566.2 L545.5,563.9 L548.5,561.5 L551.5,559.1 L554.5,556.8 L557.5,554.4 L560.5,552.1 L563.5,549.7 L566.5,547.4 L569.5,545.0 L572.5,542.7 L575.5,540.3 L578.5,538.0 L581.5,535.7 L584.5,533.3 L587.5,531.0 L590.5,528.7 L593.5,526.4 L596.5,524.0 L599.5,521.7 L602.5,519.4 L605.5,517.1 L608.5,514.8 L611.5,512.5 L614.5,510.2 L617.5,507.9 L620.5,505.6 L623.5,503.3 L626.5,501.0 L629.5,498.7 L632.5,496.5 L635.5,494.2 L638.5,491.9 L641.5,489.6 L644.5,487.4 L647.5,485.1 L650.5,482.8 L653.5,480.6 L656.5,478.3 L659.5,476.1 L662.5,473.8 L665.5,471.6 L668.5,469.3 L671.5,467.1 L674.5,464.9 L677.5,462.6 L680.5,460.4 L683.5,458.2 L686.5,455.9 L689.5,453.7 L692.5,451.5 L695.5,449.3 L698.5,447.0 L701.5,444.8 L704.5,442.6 L707.5,440.4 L710.5,438.2 L713.5,436.0 L716.5,433.7 L719.5,431.5 L722.5,429.3 L725.5,427.1 L728.5,424.9 L731.5,422.7 L734.5,420.5 L737.5,418.3 L740.5,416.1 L743.5,413.9 L746.5,411.8 L749.5,409.6 L752.5,407.4 L755.5,405.2 L758.5,403.1 L761.5,400.9 L764.5,398.7 L767.5,396.6 L770.5,394.4 L773.5,392.3 L776.5,390.1 L779.5,388.0 L782.5,385.8 L785.5,383.7 L788.5,381.6 L791.5,379.4 L794.5,377.3 L797.5,375.2 L800.5,373.1 L803.5,371.0 L806.5,368.9 L809.5,366.8 L812.5,364.7 L815.5,362.6 L818.5,360.5 L821.5,358.4 L824.5,356.3 L827.5,354.2 L830.5,352.1 L833.5,350.0 L836.5,347.9 L839.5,345.9 L842.5,343.8 L845.5,341.7 L848.5,339.6 L851.5,337.6 L854.5,335.5 L857.5,333.4 L860.5,331.3 L863.5,329.3 L866.5,327.2 L869.5,325.1 L872.5,323.1 L875.5,321.0 L878.5,318.9 L881.5,316.9 L884.5,314.8 L887.5,312.8 L890.5,310.7 L893.5,308.7 L896.5,306.6 L899.5,304.6 L902.5,302.5 L905.5,300.5 L908.5,298.4 L911.5,296.4 L914.5,294.4 L917.5,292.3 L920.5,290.3 L923.5,288.3 L926.5,286.3 L929.5,284.3 L932.5,282.2 L935.5,280.2 L938.5,278.2 L941.5,276.2 L944.5,274.2 L947.5,272.2 L950.5,270.2 L953.5,268.2 L956.5,266.2 L959.5,264.2 L962.5,262.2 L965.5,260.2 L968.5,258.2 L971.5,256.3 L974.5,254.3 L977.5,252.3 L980.5,250.3 L983.5,248.3 L986.5,246.4 L989.5,244.4 L992.5,242.4 L995.5,240.4 L998.5,238.5 L1001.5,236.5 L1004.5,234.6 L1007.5,232.6 L1010.5,230.6 L1013.5,228.7 L1016.5,226.7 L1019.5,224.8 L1022.5,222.9 L1025.5,220.9 L1028.5,219.0 L1031.5,217.1 L1034.5,215.2 L1037.5,213.3 L1040.5,211.4 L1043.5,209.5 L1046.5,207.6 L1049.5,205.7 L1052.5,203.8 L1055.5,202.0 L1058.5,200.1 L1061.5,198.3 L1064.5,196.4 L1067.5,194.6 L1070.5,192.7 L1073.5,190.9 L1076.5,189.1 L1079.5,187.3 L1082.5,185.5 L1085.5,183.6 L1088.5,181.8 L1091.5,180.0" stroke="#000000" stroke-width="4.0" fill="none" stroke-linejoin="round" stroke-linecap="butt"/>
<path d="M155.5,843.0 L158.5,839.8 L161.5,838.8 L164.5,837.9 L167.5,836.9 L170.5,835.9 L173.5,834.8 L176.5,833.8 L179.5,832.7 L182.5,831.7 L185.5,830.6 L188.5,829.4 L191.5,828.3 L194.5,827.1 L197.5,825.9 L200.5,824.7 L203.5,823.4 L206.5,822.1 L209.5,820.8 L212.5,819.4 L215.5,818.0 L218.5,816.6 L221.5,815.1 L224.5,813.5 L227.5,812.0 L230.5,810.3 L233.5,808.7 L236.5,807.0 L239.5,805.2 L242.5,803.4 L245.5,801.6 L248.5,799.7 L251.5,797.8 L254.5,795.8 L257.5,793.8 L260.5,791.8 L263.5,789.7 L266.5,787.6 L269.5,785.5 L272.5,783.3 L275.5,781.1 L278.5,778.9 L281.5,776.7 L284.5,774.4 L287.5,772.1 L290.5,769.8 L293.5,767.4 L296.5,765.1 L299.5,762.7 L302.5,760.3 L305.5,757.9 L308.5,755.4 L311.5,753.0 L314.5,750.5 L317.5,748.0 L320.5,745.6 L323.5,743.1 L326.5,740.6 L329.5,738.0 L332.5,735.5 L335.5,733.0 L338.5,730.5 L341.5,727.9 L344.5,725.4 L347.5,722.9 L350.5,720.4 L353.5,717.8 L356.5,715.3 L359.5,712.8 L362.5,710.2 L365.5,707.7 L368.5,705.2 L371.5,702.7 L374.5,700.2 L377.5,697.7 L380.5,695.2 L383.5,692.7 L386.5,690.1 L389.5,687.6 L392.5,685.1 L395.5,682.6 L398.5,680.1 L401.5,677.7 L404.5,675.2 L407.5,672.7 L410.5,670.2 L413.5,667.7 L416.5,665.2 L419.5,662.7 L422.5,660.3 L425.5,657.8 L428.5,655.3 L431.5,652.8 L434.5,650.4 L437.5,647.9 L440.5,645.4 L443.5,643.0 L446.5,640.5 L449.5,638.1 L452.5,635.6 L455.5,633.2 L458.5,630.7 L461.5,628.3 L464.5,625.8 L467.5,623.4 L470.5,620.9 L473.5,618.5 L476.5,616.1 L479.5,613.6 L482.5,611.2 L485.5,608.8 L488.5,606.4 L491.5,604.0 L494.5,601.5 L497.5,599.1 L500.5,596.7 L503.5,594.3 L506.5,591.9 L509.5,589.5 L512.5,587.1 L515.5,584.7 L518.5,582.3 L521.5,579.9 L524.5,577.5 L527.5,575.1 L530.5,572.7 L533.5,570.4 L536.5,568.0 L539.5,565.6 L542.5,563.2 L545.5,560.9 L548.5,558.5 L551.5,556.1 L554.5,553.8 L557.5,551.4 L560.5,549.1 L563.5,546.7 L566.5,544.4 L569.5,542.0 L572.5,539.7 L575.5,537.3 L578.5,535.0 L581.5,532.7 L584.5,530.3 L587.5,528.0 L590.5,525.7 L593.5,523.4 L596.5,521.0 L599.5,518.7 L602.5,516.4 L605.5,514.1 L608.5,511.8 L611.5,509.5 L614.5,507.2 L617.5,504.9 L620.5,502.6 L623.5,500.3 L626.5,498.0 L629.5,495.7 L632.5,493.5 L635.5,491.2 L638.5,488.9 L641.5,486.6 L644.5,484.4 L647.5,482.1 L650.5,479.9 L653.5,477.6 L656.5,475.3 L659.5,473.1 L662.5,470.8 L665.5,468.6 L668.5,466.4 L671.5,464.1 L674.5,461.9 L677.5,459.7 L680.5,457.4 L683.5,455.2 L686.5,453.0 L689.5,450.8 L692.5,448.6 L695.5,446.4 L698.5,444.2 L701.5,442.0 L704.5,439.8 L707.5,437.6 L710.5,435.4 L713.5,433.2 L716.5,431.0 L719.5,428.8 L722.5,426.7 L725.5,424.5 L728.5,422.3 L731.5,420.2 L734.5,418.0 L737.5,415.8 L740.5,413.7 L743.5,411.5 L746.5,409.4 L749.5,407.2 L752.5,405.1 L755.5,403.0 L758.5,400.8 L761.5,398.7 L764.5,396.6 L767.5,394.5 L770.5,392.4 L773.5,390.2 L776.5,388.1 L779.5,386.0 L782.5,383.9 L785.5,381.8 L788.5,379.8 L791.5,377.7 L794.5,375.6 L797.5,373.5 L800.5,371.4 L803.5,369.4 L806.5,367.3 L809.5,365.2 L812.5,363.2 L815.5,361.1 L818.5,359.1 L821.5,357.0 L824.5,355.0 L827.5,352.9 L830.5,350.9 L833.5,348.9 L836.5,346.8 L839.5,344.8 L842.5,342.8 L845.5,340.8 L848.5,338.8 L851.5,336.8 L854.5,334.8 L857.5,332.8 L860.5,330.8 L863.5,328.8 L866.5,326.8 L869.5,324.8 L872.5,322.8 L875.5,320.8 L878.5,318.9 L881.5,316.9 L884.5,314.9 L887.5,313.0 L890.5,311.0 L893.5,309.0 L896.5,307.1 L899.5,305.1 L902.5,303.2 L905.5,301.2 L908.5,299.3 L911.5,297.4 L914.5,295.4 L917.5,293.5 L920.5,291.6 L923.5,289.6 L926.5,287.7 L929.5,285.8 L932.5,283.9 L935.5,281.9 L938.5,280.0 L941.5,278.1 L944.5,276.2 L947.5,274.3 L950.5,272.4 L953.5,270.5 L956.5,268.6 L959.5,266.7 L962.5,264.8 L965.5,262.9 L968.5,261.0 L971.5,259.1 L974.5,257.3 L977.5,255.4 L980.5,253.5 L983.5,251.6 L986.5,249.7 L989.5,247.9 L992.5,246.0 L995.5,244.1 L998.5,242.3 L1001.5,240.4 L1004.5,238.5 L1007.5,236.7 L1010.5,234.8 L1013.5,232.9 L1016.5,231.1 L1019.5,229.2 L1022.5,227.4 L1025.5,225.5 L1028.5,223.7 L1031.5,221.8 L1034.5,220.0 L1037.5,218.1 L1040.5,216.3 L1043.5,214.5 L1046.5,212.6 L1049.5,210.8 L1052.5,208.9 L1055.5,207.1 L1058.5,205.3 L1061.5,203.4 L1064.5,201.6 L1067.5,199.8 L1070.5,197.9 L1073.5,196.1 L1076.5,194.3 L1079.5,192.4 L1082.5,190.6 L1085.5,188.8 L1088.5,187.0 L1091.5,185.1 L1094.5,183.3 L1097.5,181.5 L1100.5,179.7 L1103.5,177.8 L1106.5,176.0 L1109.5,174.2 L1112.5,172.4 L1115.5,170.5 L1118.5,168.7 L1121.5,166.9 L1124.5,165.1 L1127.5,163.3 L1130.5,161.4 L1133.5,159.6 L1136.5,157.8 L1139.5,156.0 L1142.5,154.2 L1145.5,152.4 L1148.5,150.5 L1151.5,148.7 L1154.5,146.9 L1157.5,145.1 L1160.5,143.3 L1163.5,141.5 L1166.5,139.6 L1169.5,137.8 L1172.5,136.0 L1175.5,134.2 L1178.5,132.4 L1181.5,130.6 L1184.5,128.7 L1187.5,126.9 L1189.0,126.0" stroke="#2af020" stroke-width="4.5" fill="none" stroke-linejoin="round" stroke-linecap="butt"/>
</g>
<rect x="154.0" y="14.6" width="1102.7" height="866.1" fill="none" stroke="#000" stroke-width="3"/>
<path d="M337.8,880.7 V866.2 M337.8,14.6 V29.1 M521.6,880.7 V866.2 M521.6,14.6 V29.1 M705.4,880.7 V866.2 M705.4,14.6 V29.1 M889.1,880.7 V866.2 M889.1,14.6 V29.1 M1072.9,880.7 V866.2 M1072.9,14.6 V29.1 M154.0,847.8 H168.5 M1256.7,847.8 H1242.2 M154.0,681.2 H168.5 M1256.7,681.2 H1242.2 M154.0,514.5 H168.5 M1256.7,514.5 H1242.2 M154.0,347.9 H168.5 M1256.7,347.9 H1242.2 M154.0,181.2 H168.5 M1256.7,181.2 H1242.2" stroke="#000" stroke-width="2.2" fill="none"/>
<g font-size="46" fill="#000">
<text x="126" y="865.8" text-anchor="end">0</text>
<text x="126" y="699.2" text-anchor="end">10</text>
<text x="126" y="532.5" text-anchor="end">20</text>
<text x="126" y="365.9" text-anchor="end">30</text>
<text x="126" y="199.2" text-anchor="end">40</text>
<text x="126" y="32.6" text-anchor="end">50</text>
<text x="154.0" y="948.5" text-anchor="middle">0</text>
<text x="337.8" y="948.5" text-anchor="middle">10</text>
<text x="521.6" y="948.5" text-anchor="middle">20</text>
<text x="705.4" y="948.5" text-anchor="middle">30</text>
<text x="889.1" y="948.5" text-anchor="middle">40</text>
<text x="1072.9" y="948.5" text-anchor="middle">50</text>
<text x="1256.7" y="948.5" text-anchor="middle">60</text>
</g>
<g font-size="40.8" font-weight="bold">
<text x="1104.4" y="73.3" fill="#2af020">-1.400 V</text>
<text x="1032.2" y="121.0" fill="#000000">-1.350 V</text>
<text x="929.4" y="168.4" fill="#806414">-1.330 V</text>
<text x="877.2" y="220.6" fill="#7d0606">-1.315 V</text>
<text x="1106.9" y="227.0" fill="#484848">-1.300 V</text>
<text x="1106.9" y="274.3" fill="#f5841a">-1.280 V</text>
<text x="1106.9" y="316.8" fill="#e5087c">-1.265 V</text>
<text x="1106.9" y="378.0" fill="#000000">-1.250 V</text>
<text x="1106.9" y="435.0" fill="#057305">-1.230 V</text>
<text x="1106.9" y="507.2" fill="#145ffa">-1.215 V</text>
<text x="1106.9" y="576.5" fill="#8c00cd">-1.200 V</text>
<text x="1106.9" y="662.2" fill="#000000">-1.190 V</text>
<text x="919.4" y="741.8" fill="#2af020">-1.185 V</text>
<text x="1106.9" y="788.2" fill="#0a0ac8">-1.180 V</text>
<text x="1003.2" y="862.4" fill="#e81010">-1.175 V</text>
</g>
<text x="436.4" y="1022.2" font-size="54.3" fill="#000" transform="translate(-1.6,0)">Nominal Thickness (nm)</text>
<text transform="translate(41,701.3) rotate(-90)" x="-3.8" y="0" font-size="54.2" fill="#000">Stress-Thickness (N/m)</text>
</svg>
</body></html>
